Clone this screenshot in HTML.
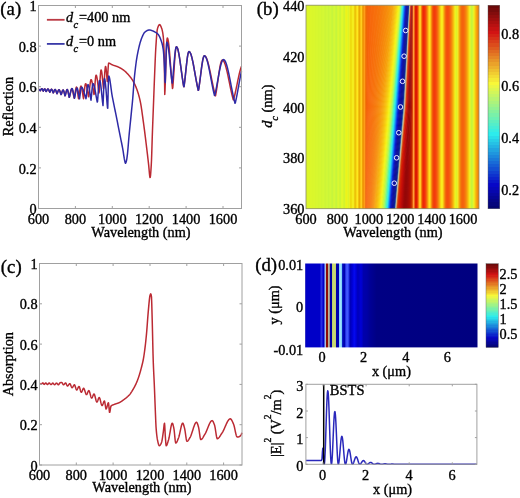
<!DOCTYPE html>
<html><head><meta charset="utf-8"><style>
html,body{margin:0;padding:0;background:#fff;}
svg{display:block;}
text{stroke:#000;stroke-width:0.35px;}
</style></head><body>
<svg width="520" height="498" viewBox="0 0 520 498">
<rect width="520" height="498" fill="#fff"/>
<g font-family="Liberation Serif, Times New Roman, serif" fill="#000" stroke-width="0">
<path d="M38.50 89.30L38.75 89.35L39.00 89.48L39.25 89.68L39.50 89.93L39.75 90.19L40.00 90.45L40.25 90.66L40.50 90.42L40.75 89.99L41.00 89.54L41.25 89.13L41.50 88.84L41.75 88.70L42.00 88.79L42.25 89.12L42.50 89.64L42.75 90.24L43.00 90.82L43.25 91.13L43.50 90.69L43.75 90.18L44.00 89.67L44.25 89.24L44.50 88.97L44.75 88.91L45.00 89.12L45.25 89.58L45.50 90.22L45.75 90.89L46.00 91.50L46.25 91.48L46.50 91.06L46.75 90.59L47.00 90.11L47.25 89.67L47.50 89.31L47.75 89.08L48.00 89.00L48.25 89.11L48.50 89.42L48.75 89.90L49.00 90.48L49.25 91.10L49.50 91.70L49.75 92.21L50.00 91.93L50.25 91.38L50.50 90.78L50.75 90.20L51.00 89.73L51.25 89.41L51.50 89.30L51.75 89.42L52.00 89.77L52.25 90.31L52.50 90.96L52.75 91.66L53.00 92.33L53.25 92.90L53.50 92.59L53.75 91.99L54.00 91.33L54.25 90.69L54.50 90.13L54.75 89.72L55.00 89.52L55.25 89.55L55.50 89.82L55.75 90.31L56.00 90.97L56.25 91.72L56.50 92.49L56.75 93.20L57.00 93.80L57.25 93.27L57.50 92.65L57.75 91.97L58.00 91.30L58.25 90.70L58.50 90.22L58.75 89.91L59.00 89.80L59.25 89.92L59.50 90.27L59.75 90.83L60.00 91.53L60.25 92.31L60.50 93.12L60.75 93.89L61.00 94.56L61.25 94.43L61.50 93.73L61.75 92.93L62.00 92.12L62.25 91.35L62.50 90.71L62.75 90.25L63.00 90.02L63.25 90.06L63.50 90.41L63.75 91.03L64.00 91.87L64.25 92.85L64.50 93.87L64.75 94.85L65.00 95.70L65.25 95.53L65.50 94.62L65.75 93.61L66.00 92.56L66.25 91.55L66.50 90.67L66.75 90.00L67.00 89.60L67.25 89.51L67.50 89.78L67.75 90.41L68.00 91.35L68.25 92.51L68.50 93.78L68.75 95.07L69.00 96.27L69.25 97.32L69.50 96.79L69.75 95.77L70.00 94.65L70.25 93.47L70.50 92.30L70.75 91.20L71.00 90.25L71.25 89.51L71.50 89.01L71.75 88.81L72.00 88.92L72.25 89.38L72.50 90.16L72.75 91.21L73.00 92.44L73.25 93.79L73.50 95.17L73.75 96.48L74.00 97.67L74.25 98.26L74.50 96.92L74.75 95.38L75.00 93.71L75.25 92.04L75.50 90.45L75.75 89.07L76.00 88.01L76.25 87.33L76.50 87.10L76.75 87.41L77.00 88.31L77.25 89.71L77.50 91.46L77.75 93.40L78.00 95.36L78.25 97.17L78.50 98.70L78.75 97.39L79.00 95.88L79.25 94.23L79.50 92.52L79.75 90.83L80.00 89.29L80.25 87.96L80.50 86.95L80.75 86.32L81.00 86.10L81.25 86.32L81.50 86.95L81.75 87.96L82.00 89.29L82.25 90.83L82.50 92.52L82.75 94.23L83.00 95.88L83.25 97.39L83.50 98.70L83.75 96.81L84.00 94.58L84.25 92.17L84.50 89.74L84.75 87.50L85.00 85.63L85.25 84.31L85.50 83.66L85.75 83.66L86.00 84.01L86.25 84.67L86.50 85.61L86.75 86.78L87.00 88.13L87.25 89.61L87.50 91.14L87.75 92.68L88.00 94.16L88.25 95.53L88.50 96.76L88.75 96.14L89.00 94.14L89.25 91.90L89.50 89.52L89.75 87.14L90.00 84.88L90.25 82.89L90.50 81.30L90.75 80.19L91.00 79.65L91.25 79.67L91.50 80.07L91.75 80.82L92.00 81.88L92.25 83.20L92.50 84.73L92.75 86.40L93.00 88.14L93.25 89.88L93.50 91.56L93.75 93.11L94.00 94.50L94.25 93.49L94.50 90.55L94.75 87.27L95.00 83.89L95.25 80.71L95.50 78.04L95.75 76.13L96.00 75.19L96.25 75.18L96.50 75.66L96.75 76.55L97.00 77.82L97.25 79.40L97.50 81.23L97.75 83.23L98.00 85.30L98.25 87.38L98.50 89.39L98.75 91.24L99.00 92.90L99.25 91.71L99.50 88.25L99.75 84.37L100.00 80.38L100.25 76.63L100.50 73.47L100.75 71.22L101.00 70.10L101.25 70.12L101.50 70.85L101.75 72.19L102.00 74.06L102.25 76.33L102.50 78.87L102.75 81.52L103.00 84.14L103.25 86.58L103.50 88.73L103.75 87.74L104.00 84.33L104.25 80.52L104.50 76.60L104.75 72.92L105.00 69.82L105.25 67.60L105.50 66.50L105.75 66.61L106.00 67.85L106.25 70.03L106.50 72.86L106.75 75.97L107.00 78.97L107.25 81.55L107.50 79.10L107.75 74.75L108.00 70.20L108.25 66.28L108.50 63.76L108.75 63.10L109.00 63.13L109.25 63.19L109.50 63.27L109.75 63.39L110.00 63.52L110.25 63.67L110.50 63.82L110.75 63.98L111.00 64.14L111.25 64.30L111.50 64.45L111.75 64.58L112.00 64.70L112.25 64.80L112.50 64.90L112.75 65.00L113.00 65.09L113.25 65.18L113.50 65.27L113.75 65.35L114.00 65.43L114.25 65.52L114.50 65.60L114.75 65.68L115.00 65.76L115.25 65.84L115.50 65.92L115.75 66.01L116.00 66.09L116.25 66.17L116.50 66.26L116.75 66.35L117.00 66.45L117.25 66.54L117.50 66.64L117.75 66.75L118.00 66.86L118.25 66.97L118.50 67.08L118.75 67.20L119.00 67.32L119.25 67.45L119.50 67.58L119.75 67.71L120.00 67.84L120.25 67.98L120.50 68.12L120.75 68.26L121.00 68.41L121.25 68.56L121.50 68.71L121.75 68.87L122.00 69.03L122.25 69.19L122.50 69.36L122.75 69.53L123.00 69.70L123.25 69.88L123.50 70.06L123.75 70.24L124.00 70.42L124.25 70.62L124.50 70.81L124.75 71.02L125.00 71.23L125.25 71.46L125.50 71.69L125.75 71.92L126.00 72.16L126.25 72.41L126.50 72.66L126.75 72.92L127.00 73.19L127.25 73.45L127.50 73.72L127.75 74.00L128.00 74.28L128.25 74.56L128.50 74.84L128.75 75.13L129.00 75.42L129.25 75.71L129.50 76.00L129.75 76.30L130.00 76.61L130.25 76.92L130.50 77.23L130.75 77.56L131.00 77.89L131.25 78.23L131.50 78.59L131.75 78.95L132.00 79.32L132.25 79.70L132.50 80.10L132.75 80.51L133.00 80.93L133.25 81.36L133.50 81.81L133.75 82.27L134.00 82.75L134.25 83.24L134.50 83.75L134.75 84.28L135.00 84.82L135.25 85.37L135.50 85.95L135.75 86.54L136.00 87.15L136.25 87.78L136.50 88.43L136.75 89.09L137.00 89.77L137.25 90.48L137.50 91.21L137.75 91.97L138.00 92.75L138.25 93.56L138.50 94.40L138.75 95.28L139.00 96.19L139.25 97.14L139.50 98.12L139.75 99.15L140.00 100.22L140.25 101.33L140.50 102.55L140.75 103.89L141.00 105.34L141.25 106.90L141.50 108.53L141.75 110.23L142.00 111.99L142.25 113.79L142.50 115.62L142.75 117.46L143.00 119.29L143.25 121.12L143.50 122.92L143.75 124.75L144.00 126.62L144.25 128.53L144.50 130.47L144.75 132.43L145.00 134.41L145.25 136.42L145.50 138.43L145.75 140.46L146.00 142.49L146.25 144.52L146.50 146.58L146.75 148.65L147.00 150.74L147.25 152.84L147.50 154.96L147.75 157.09L148.00 159.23L148.25 161.38L148.50 163.54L148.75 165.82L149.00 168.57L149.25 171.49L149.50 174.20L149.75 176.32L150.00 177.49L150.25 177.30L150.50 175.60L150.75 172.76L151.00 169.17L151.25 165.20L151.50 160.31L151.75 153.30L152.00 145.20L152.25 137.11L152.50 129.96L152.75 123.26L153.00 116.70L153.25 110.21L153.50 103.71L153.75 97.14L154.00 90.46L154.25 83.85L154.50 77.46L154.75 71.32L155.00 65.10L155.25 59.06L155.50 53.52L155.75 48.81L156.00 44.85L156.25 40.99L156.50 37.39L156.75 34.20L157.00 31.59L157.25 29.71L157.50 28.65L157.75 27.82L158.00 27.07L158.25 26.40L158.50 25.82L158.75 25.35L159.00 24.98L159.25 24.73L159.50 24.61L159.75 24.63L160.00 24.81L160.25 25.12L160.50 25.54L160.75 26.06L161.00 26.64L161.25 27.26L161.50 27.90L161.75 28.59L162.00 29.40L162.25 30.36L162.50 31.52L162.75 32.91L163.00 34.56L163.25 36.54L163.50 39.54L163.75 43.97L164.00 49.92L164.25 57.49L164.50 74.46L164.75 94.54L165.00 90.72L165.25 84.00L165.50 76.57L165.75 68.79L166.00 61.07L166.25 53.85L166.50 47.59L166.75 42.67L167.00 39.42L167.25 38.04L167.50 38.13L167.75 38.64L168.00 39.54L168.25 40.81L168.50 42.43L168.75 44.39L169.00 46.64L169.25 49.17L169.50 51.92L169.75 54.88L170.00 57.98L170.25 61.20L170.50 64.48L170.75 67.80L171.00 71.09L171.25 74.34L171.50 77.49L171.75 80.52L172.00 83.39L172.25 86.08L172.50 88.57L172.75 87.85L173.00 84.82L173.25 81.50L173.50 77.93L173.75 74.20L174.00 70.38L174.25 66.56L174.50 62.84L174.75 59.32L175.00 56.08L175.25 53.22L175.50 50.81L175.75 48.92L176.00 47.61L176.25 46.91L176.50 46.81L176.75 46.95L177.00 47.25L177.25 47.69L177.50 48.29L177.75 49.03L178.00 49.91L178.25 50.92L178.50 52.06L178.75 53.32L179.00 54.68L179.25 56.14L179.50 57.69L179.75 59.32L180.00 61.01L180.25 62.76L180.50 64.55L180.75 66.37L181.00 68.21L181.25 70.05L181.50 71.90L181.75 73.72L182.00 75.52L182.25 77.28L182.50 79.00L182.75 80.67L183.00 82.27L183.25 83.79L183.50 85.25L183.75 86.62L184.00 86.72L184.25 84.92L184.50 82.97L184.75 80.88L185.00 78.68L185.25 76.39L185.50 74.03L185.75 71.64L186.00 69.25L186.25 66.90L186.50 64.60L186.75 62.40L187.00 60.33L187.25 58.42L187.50 56.70L187.75 55.19L188.00 53.93L188.25 52.92L188.50 52.19L188.75 51.75L189.00 51.60L189.25 51.65L189.50 51.79L189.75 52.03L190.00 52.36L190.25 52.79L190.50 53.30L190.75 53.90L191.00 54.59L191.25 55.36L191.50 56.20L191.75 57.12L192.00 58.12L192.25 59.17L192.50 60.29L192.75 61.46L193.00 62.68L193.25 63.95L193.50 65.26L193.75 66.60L194.00 67.97L194.25 69.36L194.50 70.77L194.75 72.18L195.00 73.60L195.25 75.03L195.50 76.44L195.75 77.84L196.00 79.23L196.25 80.59L196.50 81.93L196.75 83.23L197.00 84.50L197.25 85.74L197.50 86.92L197.75 88.07L198.00 89.16L198.25 90.20L198.50 90.24L198.75 88.76L199.00 87.17L199.25 85.48L199.50 83.71L199.75 81.85L200.00 79.94L200.25 77.99L200.50 76.01L200.75 74.02L201.00 72.04L201.25 70.09L201.50 68.20L201.75 66.38L202.00 64.65L202.25 63.03L202.50 61.53L202.75 60.18L203.00 58.99L203.25 57.98L203.50 57.14L203.75 56.50L204.00 56.07L204.25 55.84L204.50 55.81L204.75 55.87L205.00 56.00L205.25 56.20L205.50 56.48L205.75 56.82L206.00 57.22L206.25 57.69L206.50 58.23L206.75 58.83L207.00 59.49L207.25 60.20L207.50 60.97L207.75 61.80L208.00 62.67L208.25 63.59L208.50 64.56L208.75 65.56L209.00 66.61L209.25 67.69L209.50 68.80L209.75 69.94L210.00 71.10L210.25 72.28L210.50 73.48L210.75 74.70L211.00 75.92L211.25 77.15L211.50 78.38L211.75 79.61L212.00 80.84L212.25 82.06L212.50 83.27L212.75 84.46L213.00 85.64L213.25 86.80L213.50 87.93L213.75 89.04L214.00 90.12L214.25 91.17L214.50 92.19L214.75 93.17L215.00 94.12L215.25 95.03L215.50 95.90L215.75 94.61L216.00 93.23L216.25 91.77L216.50 90.23L216.75 88.62L217.00 86.95L217.25 85.24L217.50 83.48L217.75 81.70L218.00 79.91L218.25 78.11L218.50 76.33L218.75 74.58L219.00 72.87L219.25 71.22L219.50 69.64L219.75 68.14L220.00 66.74L220.25 65.44L220.50 64.27L220.75 63.22L221.00 62.31L221.25 61.55L221.50 60.95L221.75 60.50L222.00 60.22L222.25 60.10L222.50 60.12L222.75 60.21L223.00 60.37L223.25 60.61L223.50 60.90L223.75 61.27L224.00 61.70L224.25 62.20L224.50 62.76L224.75 63.38L225.00 64.06L225.25 64.80L225.50 65.60L225.75 66.44L226.00 67.33L226.25 68.27L226.50 69.26L226.75 70.28L227.00 71.34L227.25 72.43L227.50 73.55L227.75 74.70L228.00 75.87L228.25 77.06L228.50 78.27L228.75 79.49L229.00 80.71L229.25 81.94L229.50 83.18L229.75 84.41L230.00 85.63L230.25 86.84L230.50 88.05L230.75 89.24L231.00 90.40L231.25 91.55L231.50 92.68L231.75 93.77L232.00 94.84L232.25 95.88L232.50 96.89L232.75 97.85L233.00 98.79L233.25 99.68L233.50 99.86L233.75 98.98L234.00 98.05L234.25 97.09L234.50 96.08L234.75 95.04L235.00 93.97L235.25 92.87L235.50 91.74L235.75 90.59L236.00 89.41L236.25 88.22L236.50 87.02L236.75 85.80L237.00 84.58L237.25 83.36L237.50 82.14L237.75 80.93L238.00 79.72L238.25 78.54L238.50 77.37L238.75 76.23L239.00 75.11L239.25 74.03L239.50 72.99L239.75 71.98L240.00 71.02L240.25 70.11L240.50 69.25L240.75 68.45L241.00 67.70L241.25 67.02L241.50 66.40" fill="none" stroke="#bb2a33" stroke-width="1.5" stroke-linejoin="round"/>
<path d="M38.50 89.30L38.75 89.35L39.00 89.48L39.25 89.68L39.50 89.93L39.75 90.19L40.00 90.45L40.25 90.66L40.50 90.42L40.75 89.99L41.00 89.54L41.25 89.13L41.50 88.84L41.75 88.70L42.00 88.79L42.25 89.12L42.50 89.64L42.75 90.24L43.00 90.82L43.25 91.13L43.50 90.69L43.75 90.18L44.00 89.67L44.25 89.24L44.50 88.97L44.75 88.91L45.00 89.12L45.25 89.58L45.50 90.22L45.75 90.89L46.00 91.50L46.25 91.48L46.50 91.06L46.75 90.59L47.00 90.11L47.25 89.67L47.50 89.31L47.75 89.08L48.00 89.00L48.25 89.11L48.50 89.42L48.75 89.90L49.00 90.48L49.25 91.10L49.50 91.70L49.75 92.21L50.00 91.93L50.25 91.38L50.50 90.78L50.75 90.20L51.00 89.73L51.25 89.41L51.50 89.30L51.75 89.42L52.00 89.77L52.25 90.31L52.50 90.96L52.75 91.66L53.00 92.33L53.25 92.90L53.50 92.59L53.75 91.99L54.00 91.33L54.25 90.69L54.50 90.13L54.75 89.72L55.00 89.52L55.25 89.55L55.50 89.82L55.75 90.31L56.00 90.97L56.25 91.72L56.50 92.49L56.75 93.20L57.00 93.80L57.25 93.27L57.50 92.65L57.75 91.97L58.00 91.30L58.25 90.70L58.50 90.22L58.75 89.91L59.00 89.80L59.25 89.92L59.50 90.27L59.75 90.83L60.00 91.53L60.25 92.31L60.50 93.12L60.75 93.89L61.00 94.56L61.25 94.43L61.50 93.73L61.75 92.93L62.00 92.12L62.25 91.35L62.50 90.71L62.75 90.25L63.00 90.02L63.25 90.06L63.50 90.41L63.75 91.03L64.00 91.87L64.25 92.85L64.50 93.87L64.75 94.85L65.00 95.70L65.25 95.53L65.50 94.62L65.75 93.61L66.00 92.56L66.25 91.55L66.50 90.67L66.75 90.00L67.00 89.60L67.25 89.51L67.50 89.78L67.75 90.41L68.00 91.35L68.25 92.51L68.50 93.78L68.75 95.07L69.00 96.27L69.25 97.32L69.50 96.82L69.75 95.86L70.00 94.80L70.25 93.67L70.50 92.54L70.75 91.46L71.00 90.48L71.25 89.65L71.50 89.02L71.75 88.63L72.00 88.50L72.25 88.67L72.50 89.16L72.75 89.95L73.00 90.98L73.25 92.18L73.50 93.49L73.75 94.82L74.00 96.11L74.25 97.28L74.50 98.30L74.75 97.23L75.00 96.00L75.25 94.65L75.50 93.24L75.75 91.87L76.00 90.60L76.25 89.52L76.50 88.70L76.75 88.18L77.00 88.00L77.25 88.19L77.50 88.73L77.75 89.60L78.00 90.73L78.25 92.06L78.50 93.50L78.75 94.97L79.00 96.39L79.25 97.68L79.50 98.80L79.75 97.27L80.00 95.46L80.25 93.50L80.50 91.56L80.75 89.81L81.00 88.41L81.25 87.51L81.50 87.20L81.75 87.26L82.00 87.44L82.25 87.74L82.50 88.15L82.75 88.67L83.00 89.27L83.25 89.96L83.50 90.71L83.75 91.52L84.00 92.36L84.25 93.23L84.50 94.10L84.75 94.96L85.00 95.80L85.25 96.61L85.50 97.36L85.75 98.06L86.00 98.70L86.25 96.83L86.50 94.64L86.75 92.26L87.00 89.90L87.25 87.77L87.50 86.07L87.75 84.98L88.00 84.60L88.25 84.79L88.50 85.34L88.75 86.23L89.00 87.41L89.25 88.85L89.50 90.46L89.75 92.19L90.00 93.96L90.25 95.70L90.50 97.36L90.75 98.87L91.00 100.20L91.25 98.00L91.50 95.42L91.75 92.62L92.00 89.84L92.25 87.33L92.50 85.33L92.75 84.04L93.00 83.60L93.25 83.71L93.50 84.02L93.75 84.54L94.00 85.25L94.25 86.13L94.50 87.17L94.75 88.35L95.00 89.64L95.25 91.02L95.50 92.45L95.75 93.92L96.00 95.39L96.25 96.84L96.50 98.24L96.75 99.58L97.00 100.82L97.25 101.97L97.50 101.60L97.75 98.75L98.00 95.50L98.25 92.07L98.50 88.68L98.75 85.59L99.00 83.05L99.25 81.26L99.50 80.38L99.75 80.38L100.00 80.90L100.25 81.86L100.50 83.24L100.75 84.99L101.00 87.04L101.25 89.33L101.50 91.77L101.75 94.30L102.00 96.82L102.25 99.28L102.50 101.59L102.75 103.72L103.00 105.60L103.25 100.27L103.50 93.88L103.75 87.45L104.00 82.15L104.25 79.03L104.50 78.55L104.75 79.10L105.00 80.25L105.25 81.96L105.50 84.15L105.75 86.74L106.00 89.65L106.25 92.77L106.50 95.99L106.75 99.20L107.00 102.32L107.25 105.24L107.50 107.90L107.75 108.13L108.00 97.81L108.25 86.56L108.50 78.28L108.75 76.01L109.00 76.29L109.25 76.94L109.50 77.91L109.75 79.14L110.00 80.61L110.25 82.25L110.50 84.03L110.75 85.89L111.00 87.80L111.25 89.69L111.50 91.53L111.75 93.27L112.00 94.86L112.25 96.27L112.50 97.58L112.75 98.88L113.00 100.16L113.25 101.42L113.50 102.67L113.75 103.91L114.00 105.14L114.25 106.36L114.50 107.58L114.75 108.80L115.00 110.01L115.25 111.23L115.50 112.44L115.75 113.67L116.00 114.90L116.25 116.15L116.50 117.40L116.75 118.67L117.00 119.93L117.25 121.20L117.50 122.47L117.75 123.75L118.00 125.02L118.25 126.30L118.50 127.58L118.75 128.85L119.00 130.13L119.25 131.40L119.50 132.67L119.75 133.94L120.00 135.20L120.25 136.45L120.50 137.67L120.75 138.89L121.00 140.09L121.25 141.30L121.50 142.51L121.75 143.74L122.00 144.99L122.25 146.26L122.50 147.57L122.75 148.92L123.00 150.37L123.25 151.96L123.50 153.63L123.75 155.32L124.00 156.95L124.25 158.45L124.50 159.75L124.75 160.87L125.00 162.02L125.25 162.93L125.50 163.30L125.75 163.05L126.00 162.40L126.25 161.50L126.50 160.50L126.75 159.25L127.00 157.60L127.25 155.70L127.50 153.56L127.75 151.04L128.00 148.23L128.25 145.24L128.50 142.18L128.75 139.15L129.00 136.28L129.25 133.62L129.50 131.04L129.75 128.50L130.00 126.00L130.25 123.52L130.50 121.05L130.75 118.58L131.00 116.10L131.25 113.60L131.50 111.13L131.75 108.70L132.00 106.24L132.25 103.73L132.50 101.09L132.75 98.27L133.00 95.16L133.25 91.85L133.50 88.46L133.75 85.10L134.00 81.88L134.25 78.91L134.50 76.30L134.75 73.95L135.00 71.69L135.25 69.51L135.50 67.42L135.75 65.41L136.00 63.51L136.25 61.69L136.50 59.98L136.75 58.37L137.00 56.86L137.25 55.47L137.50 54.16L137.75 52.88L138.00 51.65L138.25 50.45L138.50 49.29L138.75 48.17L139.00 47.09L139.25 46.05L139.50 45.05L139.75 44.09L140.00 43.17L140.25 42.29L140.50 41.46L140.75 40.67L141.00 39.92L141.25 39.21L141.50 38.55L141.75 37.93L142.00 37.32L142.25 36.72L142.50 36.13L142.75 35.57L143.00 35.03L143.25 34.52L143.50 34.03L143.75 33.59L144.00 33.18L144.25 32.81L144.50 32.49L144.75 32.22L145.00 32.00L145.25 31.81L145.50 31.63L145.75 31.45L146.00 31.28L146.25 31.11L146.50 30.96L146.75 30.81L147.00 30.67L147.25 30.54L147.50 30.42L147.75 30.32L148.00 30.23L148.25 30.15L148.50 30.09L148.75 30.04L149.00 30.01L149.25 30.00L149.50 30.00L149.75 30.02L150.00 30.05L150.25 30.09L150.50 30.13L150.75 30.19L151.00 30.26L151.25 30.34L151.50 30.42L151.75 30.51L152.00 30.61L152.25 30.71L152.50 30.82L152.75 30.93L153.00 31.05L153.25 31.17L153.50 31.29L153.75 31.42L154.00 31.54L154.25 31.67L154.50 31.80L154.75 31.92L155.00 32.05L155.25 32.18L155.50 32.32L155.75 32.47L156.00 32.62L156.25 32.78L156.50 32.96L156.75 33.15L157.00 33.35L157.25 33.56L157.50 33.78L157.75 34.03L158.00 34.28L158.25 34.56L158.50 34.87L158.75 35.23L159.00 35.64L159.25 36.09L159.50 36.58L159.75 37.11L160.00 37.67L160.25 38.26L160.50 38.88L160.75 39.53L161.00 40.20L161.25 40.89L161.50 41.62L161.75 42.42L162.00 43.31L162.25 44.29L162.50 45.40L162.75 46.65L163.00 48.05L163.25 49.65L163.50 51.95L163.75 55.06L164.00 58.80L164.25 62.97L164.50 67.40L164.75 74.07L165.00 81.36L165.25 82.63L165.50 75.23L165.75 66.63L166.00 57.87L166.25 50.17L166.50 44.68L166.75 42.27L167.00 42.30L167.25 42.69L167.50 43.39L167.75 44.37L168.00 45.63L168.25 47.14L168.50 48.89L168.75 50.85L169.00 52.99L169.25 55.29L169.50 57.72L169.75 60.23L170.00 62.81L170.25 65.42L170.50 68.02L170.75 70.59L171.00 73.09L171.25 75.51L171.50 77.81L171.75 79.98L172.00 82.00L172.25 83.08L172.50 80.85L172.75 78.39L173.00 75.73L173.25 72.92L173.50 70.01L173.75 67.03L174.00 64.06L174.25 61.16L174.50 58.38L174.75 55.78L175.00 53.42L175.25 51.36L175.50 49.64L175.75 48.30L176.00 47.37L176.25 46.88L176.50 46.81L176.75 46.95L177.00 47.25L177.25 47.69L177.50 48.29L177.75 49.03L178.00 49.91L178.25 50.92L178.50 52.06L178.75 53.32L179.00 54.68L179.25 56.14L179.50 57.69L179.75 59.32L180.00 61.01L180.25 62.76L180.50 64.55L180.75 66.37L181.00 68.21L181.25 70.05L181.50 71.90L181.75 73.72L182.00 75.52L182.25 77.28L182.50 79.00L182.75 80.67L183.00 82.27L183.25 83.79L183.50 85.25L183.75 86.62L184.00 86.72L184.25 84.92L184.50 82.97L184.75 80.88L185.00 78.68L185.25 76.39L185.50 74.03L185.75 71.64L186.00 69.25L186.25 66.90L186.50 64.60L186.75 62.40L187.00 60.33L187.25 58.42L187.50 56.70L187.75 55.19L188.00 53.93L188.25 52.92L188.50 52.19L188.75 51.75L189.00 51.60L189.25 51.65L189.50 51.79L189.75 52.03L190.00 52.36L190.25 52.79L190.50 53.30L190.75 53.90L191.00 54.59L191.25 55.36L191.50 56.20L191.75 57.12L192.00 58.12L192.25 59.17L192.50 60.29L192.75 61.46L193.00 62.68L193.25 63.95L193.50 65.26L193.75 66.60L194.00 67.97L194.25 69.36L194.50 70.77L194.75 72.18L195.00 73.60L195.25 75.03L195.50 76.44L195.75 77.84L196.00 79.23L196.25 80.59L196.50 81.93L196.75 83.23L197.00 84.50L197.25 85.74L197.50 86.92L197.75 88.07L198.00 89.16L198.25 90.20L198.50 90.24L198.75 88.76L199.00 87.17L199.25 85.48L199.50 83.71L199.75 81.85L200.00 79.94L200.25 77.99L200.50 76.01L200.75 74.02L201.00 72.04L201.25 70.09L201.50 68.20L201.75 66.38L202.00 64.65L202.25 63.03L202.50 61.53L202.75 60.18L203.00 58.99L203.25 57.98L203.50 57.14L203.75 56.50L204.00 56.07L204.25 55.84L204.50 55.81L204.75 55.88L205.00 56.04L205.25 56.28L205.50 56.60L205.75 57.00L206.00 57.48L206.25 58.04L206.50 58.67L206.75 59.37L207.00 60.14L207.25 60.98L207.50 61.88L207.75 62.83L208.00 63.85L208.25 64.91L208.50 66.03L208.75 67.18L209.00 68.38L209.25 69.61L209.50 70.87L209.75 72.15L210.00 73.46L210.25 74.78L210.50 76.11L210.75 77.45L211.00 78.79L211.25 80.13L211.50 81.46L211.75 82.78L212.00 84.08L212.25 85.37L212.50 86.63L212.75 87.87L213.00 89.08L213.25 90.25L213.50 91.39L213.75 92.49L214.00 93.54L214.25 94.56L214.50 95.53L214.75 95.31L215.00 94.29L215.25 93.22L215.50 92.09L215.75 90.92L216.00 89.70L216.25 88.45L216.50 87.16L216.75 85.84L217.00 84.49L217.25 83.13L217.50 81.75L217.75 80.36L218.00 78.97L218.25 77.58L218.50 76.20L218.75 74.84L219.00 73.50L219.25 72.19L219.50 70.92L219.75 69.68L220.00 68.50L220.25 67.36L220.50 66.29L220.75 65.28L221.00 64.33L221.25 63.47L221.50 62.68L221.75 61.97L222.00 61.35L222.25 60.82L222.50 60.39L222.75 60.04L223.00 59.80L223.25 59.65L223.50 59.60L223.75 59.64L224.00 59.74L224.25 59.92L224.50 60.16L224.75 60.48L225.00 60.86L225.25 61.31L225.50 61.82L225.75 62.40L226.00 63.04L226.25 63.74L226.50 64.50L226.75 65.31L227.00 66.18L227.25 67.09L227.50 68.06L227.75 69.07L228.00 70.12L228.25 71.21L228.50 72.33L228.75 73.49L229.00 74.68L229.25 75.89L229.50 77.12L229.75 78.37L230.00 79.64L230.25 80.92L230.50 82.21L230.75 83.50L231.00 84.79L231.25 86.09L231.50 87.37L231.75 88.65L232.00 89.92L232.25 91.17L232.50 92.40L232.75 93.62L233.00 94.81L233.25 95.97L233.50 97.11L233.75 98.22L234.00 99.29L234.25 100.34L234.50 101.34L234.75 102.31L235.00 103.24L235.25 103.01L235.50 101.98L235.75 100.91L236.00 99.78L236.25 98.61L236.50 97.40L236.75 96.15L237.00 94.86L237.25 93.55L237.50 92.21L237.75 90.84L238.00 89.46L238.25 88.07L238.50 86.67L238.75 85.27L239.00 83.87L239.25 82.49L239.50 81.12L239.75 79.77L240.00 78.45L240.25 77.16L240.50 75.91L240.75 74.71L241.00 73.56L241.25 72.46L241.50 71.42" fill="none" stroke="#2e2aa6" stroke-width="1.5" stroke-linejoin="round"/>
<rect x="38.5" y="5.5" width="203.0" height="203.0" fill="none" stroke="#a0a0a0" stroke-width="1"/>
<path d="M38.5 208.5v-2.5M38.5 5.5v2.5M75.4 208.5v-2.5M75.4 5.5v2.5M112.3 208.5v-2.5M112.3 5.5v2.5M149.2 208.5v-2.5M149.2 5.5v2.5M186.1 208.5v-2.5M186.1 5.5v2.5M223.0 208.5v-2.5M223.0 5.5v2.5M38.5 208.5h2.5M241.5 208.5h-2.5M38.5 167.9h2.5M241.5 167.9h-2.5M38.5 127.3h2.5M241.5 127.3h-2.5M38.5 86.7h2.5M241.5 86.7h-2.5M38.5 46.1h2.5M241.5 46.1h-2.5M38.5 5.5h2.5M241.5 5.5h-2.5" stroke="#a0a0a0" stroke-width="1" fill="none"/>
<text x="38.5" y="223.5" font-size="14.3" text-anchor="middle" >600</text>
<text x="75.4" y="223.5" font-size="14.3" text-anchor="middle" >800</text>
<text x="112.3" y="223.5" font-size="14.3" text-anchor="middle" >1000</text>
<text x="149.2" y="223.5" font-size="14.3" text-anchor="middle" >1200</text>
<text x="186.1" y="223.5" font-size="14.3" text-anchor="middle" >1400</text>
<text x="223.0" y="223.5" font-size="14.3" text-anchor="middle" >1600</text>
<text x="36.6" y="214.2" font-size="14.3" text-anchor="end" >0</text>
<text x="36.6" y="173.6" font-size="14.3" text-anchor="end" >0.2</text>
<text x="36.6" y="133.0" font-size="14.3" text-anchor="end" >0.4</text>
<text x="36.6" y="92.4" font-size="14.3" text-anchor="end" >0.6</text>
<text x="36.6" y="51.8" font-size="14.3" text-anchor="end" >0.8</text>
<text x="36.6" y="11.2" font-size="14.3" text-anchor="end" >1</text>
<text x="141" y="237.3" font-size="14.3" text-anchor="middle" >Wavelength (nm)</text>
<text transform="translate(12.9,106.5) rotate(-90)" font-size="14.3" text-anchor="middle">Reflection</text>
<text x="0.3" y="15.2" font-size="18.8" text-anchor="start" >(a)</text>
<path d="M46.9 19.8H64.6" stroke="#bb3a44" stroke-width="1.8"/>
<path d="M46.9 43.9H64.6" stroke="#3a3aa8" stroke-width="1.8"/>
<text x="66" y="22.1" font-size="14.3" font-style="italic">d</text>
<text x="73.6" y="28.2" font-size="10.5" font-style="italic">c</text>
<text x="66" y="46.3" font-size="14.3" font-style="italic">d</text>
<text x="73.6" y="52.4" font-size="10.5" font-style="italic">c</text>
<text x="79" y="22.1" font-size="14.3">=400 nm</text>
<text x="79" y="46.3" font-size="14.3">=0 nm</text>
<path d="M39.50 383.30L39.75 383.57L40.00 383.79L40.25 383.96L40.50 384.07L40.75 384.15L41.00 384.19L41.25 384.20L41.50 384.08L41.75 383.84L42.00 383.55L42.25 383.26L42.50 383.02L42.75 382.90L43.00 382.98L43.25 383.27L43.50 383.65L43.75 384.03L44.00 384.32L44.25 384.40L44.50 384.27L44.75 384.02L45.00 383.70L45.25 383.38L45.50 383.13L45.75 383.00L46.00 383.06L46.25 383.29L46.50 383.61L46.75 383.96L47.00 384.27L47.25 384.46L47.50 384.49L47.75 384.35L48.00 384.11L48.25 383.81L48.50 383.50L48.75 383.23L49.00 383.05L49.25 383.00L49.50 383.12L49.75 383.36L50.00 383.67L50.25 384.00L50.50 384.30L50.75 384.52L51.00 384.60L51.25 384.52L51.50 384.32L51.75 384.04L52.00 383.73L52.25 383.43L52.50 383.21L52.75 383.10L53.00 383.15L53.25 383.35L53.50 383.64L53.75 383.97L54.00 384.29L54.25 384.54L54.50 384.69L54.75 384.67L55.00 384.52L55.25 384.27L55.50 383.96L55.75 383.65L56.00 383.37L56.25 383.18L56.50 383.10L56.75 383.18L57.00 383.39L57.25 383.69L57.50 384.02L57.75 384.34L58.00 384.61L58.25 384.77L58.50 384.78L58.75 384.57L59.00 384.21L59.25 383.77L59.50 383.34L59.75 382.99L60.00 382.80L60.25 382.73L60.50 382.66L60.75 382.60L61.00 382.56L61.25 382.52L61.50 382.51L61.75 382.51L62.00 382.67L62.25 383.01L62.50 383.46L62.75 383.93L63.00 384.37L63.25 384.68L63.50 384.80L63.75 384.73L64.00 384.54L64.25 384.28L64.50 383.96L64.75 383.65L65.00 383.36L65.25 383.13L65.50 383.01L65.75 383.05L66.00 383.34L66.25 383.81L66.50 384.38L66.75 384.97L67.00 385.49L67.25 385.86L67.50 386.00L67.75 385.92L68.00 385.72L68.25 385.43L68.50 385.07L68.75 384.70L69.00 384.34L69.25 384.03L69.50 383.81L69.75 383.70L70.00 383.79L70.25 384.10L70.50 384.59L70.75 385.18L71.00 385.83L71.25 386.46L71.50 387.03L71.75 387.45L72.00 387.68L72.25 387.66L72.50 387.47L72.75 387.14L73.00 386.72L73.25 386.25L73.50 385.78L73.75 385.36L74.00 385.03L74.25 384.84L74.50 384.83L74.75 385.12L75.00 385.68L75.25 386.41L75.50 387.23L75.75 388.07L76.00 388.85L76.25 389.48L76.50 389.89L76.75 390.00L77.00 389.84L77.25 389.50L77.50 389.02L77.75 388.48L78.00 387.91L78.25 387.37L78.50 386.92L78.75 386.62L79.00 386.50L79.25 386.69L79.50 387.20L79.75 387.95L80.00 388.84L80.25 389.78L80.50 390.68L80.75 391.46L81.00 392.03L81.25 392.29L81.50 392.21L81.75 391.90L82.00 391.41L82.25 390.82L82.50 390.17L82.75 389.54L83.00 388.97L83.25 388.55L83.50 388.32L83.75 388.35L84.00 388.63L84.25 389.11L84.50 389.74L84.75 390.49L85.00 391.29L85.25 392.10L85.50 392.87L85.75 393.55L86.00 394.10L86.25 394.47L86.50 394.60L86.75 394.47L87.00 394.12L87.25 393.60L87.50 392.99L87.75 392.34L88.00 391.72L88.25 391.18L88.50 390.79L88.75 390.61L89.00 390.70L89.25 391.09L89.50 391.70L89.75 392.49L90.00 393.39L90.25 394.35L90.50 395.31L90.75 396.21L91.00 397.00L91.25 397.61L91.50 398.00L91.75 398.09L92.00 397.91L92.25 397.51L92.50 396.96L92.75 396.32L93.00 395.65L93.25 395.02L93.50 394.50L93.75 394.13L94.00 394.00L94.25 394.17L94.50 394.64L94.75 395.35L95.00 396.23L95.25 397.22L95.50 398.26L95.75 399.29L96.00 400.24L96.25 401.06L96.50 401.68L96.75 402.04L97.00 402.07L97.25 401.81L97.50 401.32L97.75 400.68L98.00 399.95L98.25 399.21L98.50 398.52L98.75 397.96L99.00 397.60L99.25 397.51L99.50 397.74L99.75 398.26L100.00 399.01L100.25 399.92L100.50 400.92L100.75 401.97L101.00 402.99L101.25 403.92L101.50 404.70L101.75 405.27L102.00 405.57L102.25 405.54L102.50 405.23L102.75 404.71L103.00 404.04L103.25 403.30L103.50 402.56L103.75 401.89L104.00 401.37L104.25 401.06L104.50 401.08L104.75 401.88L105.00 403.29L105.25 405.00L105.50 406.71L105.75 408.12L106.00 408.92L106.25 408.92L106.50 408.49L106.75 407.77L107.00 406.86L107.25 405.85L107.50 404.84L107.75 403.93L108.00 403.21L108.25 402.78L108.50 402.89L108.75 404.71L109.00 407.60L109.25 410.49L109.50 412.31L109.75 412.31L110.00 411.32L110.25 409.81L110.50 408.18L110.75 406.82L111.00 406.10L111.25 405.85L111.50 405.65L111.75 405.47L112.00 405.31L112.25 405.18L112.50 405.07L112.75 404.97L113.00 404.88L113.25 404.79L113.50 404.70L113.75 404.60L114.00 404.50L114.25 404.39L114.50 404.29L114.75 404.19L115.00 404.10L115.25 404.01L115.50 403.93L115.75 403.84L116.00 403.76L116.25 403.68L116.50 403.60L116.75 403.52L117.00 403.44L117.25 403.36L117.50 403.28L117.75 403.20L118.00 403.11L118.25 403.02L118.50 402.93L118.75 402.83L119.00 402.72L119.25 402.62L119.50 402.50L119.75 402.38L120.00 402.25L120.25 402.11L120.50 401.96L120.75 401.81L121.00 401.65L121.25 401.49L121.50 401.32L121.75 401.15L122.00 400.97L122.25 400.80L122.50 400.61L122.75 400.43L123.00 400.25L123.25 400.06L123.50 399.87L123.75 399.69L124.00 399.50L124.25 399.31L124.50 399.13L124.75 398.94L125.00 398.76L125.25 398.57L125.50 398.38L125.75 398.19L126.00 398.00L126.25 397.81L126.50 397.61L126.75 397.40L127.00 397.20L127.25 396.98L127.50 396.76L127.75 396.54L128.00 396.31L128.25 396.07L128.50 395.82L128.75 395.57L129.00 395.31L129.25 395.03L129.50 394.74L129.75 394.44L130.00 394.12L130.25 393.78L130.50 393.44L130.75 393.08L131.00 392.71L131.25 392.33L131.50 391.94L131.75 391.55L132.00 391.14L132.25 390.74L132.50 390.33L132.75 389.91L133.00 389.50L133.25 389.08L133.50 388.66L133.75 388.22L134.00 387.78L134.25 387.33L134.50 386.87L134.75 386.40L135.00 385.92L135.25 385.42L135.50 384.91L135.75 384.39L136.00 383.86L136.25 383.31L136.50 382.75L136.75 382.16L137.00 381.55L137.25 380.92L137.50 380.27L137.75 379.60L138.00 378.91L138.25 378.21L138.50 377.49L138.75 376.75L139.00 376.00L139.25 375.22L139.50 374.42L139.75 373.58L140.00 372.72L140.25 371.84L140.50 370.93L140.75 370.01L141.00 369.08L141.25 368.14L141.50 367.20L141.75 366.26L142.00 365.30L142.25 364.30L142.50 363.26L142.75 362.17L143.00 361.00L143.25 359.74L143.50 358.36L143.75 356.86L144.00 355.25L144.25 353.54L144.50 351.74L144.75 349.88L145.00 347.94L145.25 345.88L145.50 343.72L145.75 341.43L146.00 339.04L146.25 336.55L146.50 333.93L146.75 331.01L147.00 327.85L147.25 324.53L147.50 321.15L147.75 317.81L148.00 314.61L148.25 311.63L148.50 308.94L148.75 306.19L149.00 303.44L149.25 300.84L149.50 298.54L149.75 296.71L150.00 295.50L150.25 294.68L150.50 294.08L150.75 293.91L151.00 294.33L151.25 295.26L151.50 297.07L151.75 303.42L152.00 312.61L152.25 321.76L152.50 331.82L152.75 342.83L153.00 353.21L153.25 361.42L153.50 367.77L153.75 373.23L154.00 378.31L154.25 383.56L154.50 389.45L154.75 395.88L155.00 402.45L155.25 408.79L155.50 415.02L155.75 421.30L156.00 426.50L156.25 429.86L156.50 432.64L156.75 435.01L157.00 437.01L157.25 438.67L157.50 440.00L157.75 441.17L158.00 442.30L158.25 443.35L158.50 444.25L158.75 444.98L159.00 445.47L159.25 445.69L159.50 445.66L159.75 445.53L160.00 445.30L160.25 444.98L160.50 444.59L160.75 444.14L161.00 443.63L161.25 443.08L161.50 442.50L161.75 441.70L162.00 440.56L162.25 439.14L162.50 437.53L162.75 435.80L163.00 434.04L163.25 432.33L163.50 430.44L163.75 428.06L164.00 425.71L164.25 423.92L164.50 423.20L164.75 425.47L165.00 430.43L165.25 435.29L165.50 438.79L165.75 442.30L166.00 444.92L166.25 445.70L166.50 445.54L166.75 445.19L167.00 444.67L167.25 444.03L167.50 443.29L167.75 442.48L168.00 441.64L168.25 440.80L168.50 440.00L168.75 439.11L169.00 438.03L169.25 436.80L169.50 435.44L169.75 433.99L170.00 432.51L170.25 431.01L170.50 429.54L170.75 428.14L171.00 426.84L171.25 425.69L171.50 424.71L171.75 423.94L172.00 423.43L172.25 423.21L172.50 423.33L172.75 423.82L173.00 424.59L173.25 425.57L173.50 426.66L173.75 427.78L174.00 429.13L174.25 431.13L174.50 433.53L174.75 436.09L175.00 438.57L175.25 440.70L175.50 442.26L175.75 442.98L176.00 442.95L176.25 442.78L176.50 442.49L176.75 442.09L177.00 441.62L177.25 441.08L177.50 440.49L177.75 439.87L178.00 439.24L178.25 438.61L178.50 438.00L178.75 437.32L179.00 436.50L179.25 435.55L179.50 434.50L179.75 433.38L180.00 432.21L180.25 431.02L180.50 429.83L180.75 428.66L181.00 427.54L181.25 426.50L181.50 425.55L181.75 424.73L182.00 424.07L182.25 423.57L182.50 423.28L182.75 423.21L183.00 423.41L183.25 423.86L183.50 424.51L183.75 425.30L184.00 426.18L184.25 427.10L184.50 428.00L184.75 429.08L185.00 430.50L185.25 432.16L185.50 433.94L185.75 435.74L186.00 437.46L186.25 438.98L186.50 440.20L186.75 441.01L187.00 441.30L187.25 441.26L187.50 441.13L187.75 440.93L188.00 440.67L188.25 440.35L188.50 439.99L188.75 439.60L189.00 439.19L189.25 438.76L189.50 438.33L189.75 437.91L190.00 437.50L190.25 437.07L190.50 436.57L190.75 436.01L191.00 435.40L191.25 434.74L191.50 434.04L191.75 433.31L192.00 432.55L192.25 431.77L192.50 430.98L192.75 430.19L193.00 429.40L193.25 428.61L193.50 427.84L193.75 427.10L194.00 426.38L194.25 425.70L194.50 425.06L194.75 424.47L195.00 423.93L195.25 423.46L195.50 423.06L195.75 422.74L196.00 422.50L196.25 422.35L196.50 422.30L196.75 422.41L197.00 422.73L197.25 423.21L197.50 423.84L197.75 424.56L198.00 425.35L198.25 426.17L198.50 427.00L198.75 428.06L199.00 429.53L199.25 431.26L199.50 433.12L199.75 434.97L200.00 436.68L200.25 438.11L200.50 439.12L200.75 439.59L201.00 439.58L201.25 439.49L201.50 439.33L201.75 439.13L202.00 438.87L202.25 438.56L202.50 438.22L202.75 437.85L203.00 437.45L203.25 437.02L203.50 436.59L203.75 436.14L204.00 435.70L204.25 435.25L204.50 434.82L204.75 434.40L205.00 434.00L205.25 433.59L205.50 433.14L205.75 432.66L206.00 432.14L206.25 431.59L206.50 431.02L206.75 430.43L207.00 429.82L207.25 429.20L207.50 428.57L207.75 427.94L208.00 427.30L208.25 426.68L208.50 426.06L208.75 425.45L209.00 424.86L209.25 424.29L209.50 423.75L209.75 423.23L210.00 422.75L210.25 422.31L210.50 421.90L210.75 421.55L211.00 421.24L211.25 420.99L211.50 420.80L211.75 420.67L212.00 420.61L212.25 420.63L212.50 420.78L212.75 421.05L213.00 421.44L213.25 421.91L213.50 422.45L213.75 423.04L214.00 423.68L214.25 424.34L214.50 425.00L214.75 425.85L215.00 427.04L215.25 428.48L215.50 430.08L215.75 431.76L216.00 433.44L216.25 435.01L216.50 436.41L216.75 437.55L217.00 438.34L217.25 438.69L217.50 438.68L217.75 438.61L218.00 438.48L218.25 438.31L218.50 438.09L218.75 437.84L219.00 437.55L219.25 437.23L219.50 436.89L219.75 436.52L220.00 436.14L220.25 435.75L220.50 435.34L220.75 434.94L221.00 434.53L221.25 434.13L221.50 433.74L221.75 433.36L222.00 433.00L222.25 432.63L222.50 432.23L222.75 431.81L223.00 431.35L223.25 430.87L223.50 430.37L223.75 429.85L224.00 429.31L224.25 428.76L224.50 428.21L224.75 427.64L225.00 427.07L225.25 426.49L225.50 425.92L225.75 425.35L226.00 424.78L226.25 424.23L226.50 423.69L226.75 423.16L227.00 422.64L227.25 422.15L227.50 421.68L227.75 421.24L228.00 420.82L228.25 420.44L228.50 420.09L228.75 419.77L229.00 419.50L229.25 419.26L229.50 419.07L229.75 418.93L230.00 418.84L230.25 418.80L230.50 418.83L230.75 418.96L231.00 419.17L231.25 419.47L231.50 419.83L231.75 420.24L232.00 420.71L232.25 421.22L232.50 421.75L232.75 422.31L233.00 422.87L233.25 423.44L233.50 424.00L233.75 424.65L234.00 425.47L234.25 426.44L234.50 427.51L234.75 428.66L235.00 429.85L235.25 431.04L235.50 432.22L235.75 433.34L236.00 434.36L236.25 435.27L236.50 436.02L236.75 436.58L237.00 436.91L237.25 437.00L237.50 437.00L237.75 436.99L238.00 436.98L238.25 436.95L238.50 436.91L238.75 436.86L239.00 436.77L239.25 436.67L239.50 436.53L239.75 436.36L240.00 436.15L240.25 435.90L240.50 435.60L240.75 435.26L241.00 434.87L241.25 434.42L241.50 433.91L241.75 433.34L242.00 432.70" fill="none" stroke="#bb2a33" stroke-width="1.5" stroke-linejoin="round"/>
<rect x="39.5" y="263.5" width="202.5" height="201.5" fill="none" stroke="#a0a0a0" stroke-width="1"/>
<path d="M39.5 465.0v-2.5M39.5 263.5v2.5M76.3 465.0v-2.5M76.3 263.5v2.5M113.1 465.0v-2.5M113.1 263.5v2.5M150.0 465.0v-2.5M150.0 263.5v2.5M186.8 465.0v-2.5M186.8 263.5v2.5M223.6 465.0v-2.5M223.6 263.5v2.5M39.5 465.0h2.5M242.0 465.0h-2.5M39.5 424.7h2.5M242.0 424.7h-2.5M39.5 384.4h2.5M242.0 384.4h-2.5M39.5 344.1h2.5M242.0 344.1h-2.5M39.5 303.8h2.5M242.0 303.8h-2.5M39.5 263.5h2.5M242.0 263.5h-2.5" stroke="#a0a0a0" stroke-width="1" fill="none"/>
<text x="39.5" y="479.6" font-size="14.3" text-anchor="middle" >600</text>
<text x="76.3" y="479.6" font-size="14.3" text-anchor="middle" >800</text>
<text x="113.1" y="479.6" font-size="14.3" text-anchor="middle" >1000</text>
<text x="150.0" y="479.6" font-size="14.3" text-anchor="middle" >1200</text>
<text x="186.8" y="479.6" font-size="14.3" text-anchor="middle" >1400</text>
<text x="223.6" y="479.6" font-size="14.3" text-anchor="middle" >1600</text>
<text x="37.6" y="470.6" font-size="14.3" text-anchor="end" >0</text>
<text x="37.6" y="430.3" font-size="14.3" text-anchor="end" >0.2</text>
<text x="37.6" y="390.0" font-size="14.3" text-anchor="end" >0.4</text>
<text x="37.6" y="349.7" font-size="14.3" text-anchor="end" >0.6</text>
<text x="37.6" y="309.4" font-size="14.3" text-anchor="end" >0.8</text>
<text x="37.6" y="269.1" font-size="14.3" text-anchor="end" >1</text>
<text x="142" y="492.3" font-size="14.3" text-anchor="middle" >Wavelength (nm)</text>
<text transform="translate(13.3,364.2) rotate(-90)" font-size="14.3" text-anchor="middle">Absorption</text>
<text x="0.8" y="273.0" font-size="18.8" text-anchor="start" >(c)</text>
</g>
<g font-family="Liberation Serif, Times New Roman, serif" fill="#000" stroke-width="0">
<g shape-rendering="geometricPrecision"><rect x="306.00" y="5.2" width="0.95" height="203.5" fill="#dcf727"/><rect x="306.50" y="5.2" width="0.95" height="203.5" fill="#dbf627"/><rect x="307.00" y="5.2" width="0.95" height="203.5" fill="#dbf627"/><rect x="307.50" y="5.2" width="0.95" height="203.5" fill="#dbf627"/><rect x="308.00" y="5.2" width="0.95" height="203.5" fill="#dcf727"/><rect x="308.50" y="5.2" width="0.95" height="203.5" fill="#dcf727"/><rect x="309.00" y="5.2" width="0.95" height="203.5" fill="#dcf727"/><rect x="309.50" y="5.2" width="0.95" height="203.5" fill="#dbf627"/><rect x="310.00" y="5.2" width="0.95" height="203.5" fill="#dbf627"/><rect x="310.50" y="5.2" width="0.95" height="203.5" fill="#dbf728"/><rect x="311.00" y="5.2" width="0.95" height="203.5" fill="#dbf729"/><rect x="311.50" y="5.2" width="0.95" height="203.5" fill="#daf729"/><rect x="312.00" y="5.2" width="0.95" height="203.5" fill="#d9f629"/><rect x="312.50" y="5.2" width="0.95" height="203.5" fill="#d9f629"/><rect x="313.00" y="5.2" width="0.95" height="203.5" fill="#daf729"/><rect x="313.50" y="5.2" width="0.95" height="203.5" fill="#daf729"/><rect x="314.00" y="5.2" width="0.95" height="203.5" fill="#daf72a"/><rect x="314.50" y="5.2" width="0.95" height="203.5" fill="#d9f72a"/><rect x="315.00" y="5.2" width="0.95" height="203.5" fill="#d7f62b"/><rect x="315.50" y="5.2" width="0.95" height="203.5" fill="#d6f62b"/><rect x="316.00" y="5.2" width="0.95" height="203.5" fill="#d7f62c"/><rect x="316.50" y="5.2" width="0.95" height="203.5" fill="#d8f72c"/><rect x="317.00" y="5.2" width="0.95" height="203.5" fill="#d8f72d"/><rect x="317.50" y="5.2" width="0.95" height="203.5" fill="#d6f72d"/><rect x="318.00" y="5.2" width="0.95" height="203.5" fill="#d4f62d"/><rect x="318.50" y="5.2" width="0.95" height="203.5" fill="#d3f62d"/><rect x="319.00" y="5.2" width="0.95" height="203.5" fill="#d4f62e"/><rect x="319.50" y="5.2" width="0.95" height="203.5" fill="#d6f72e"/><rect x="320.00" y="5.2" width="0.95" height="203.5" fill="#d6f72f"/><rect x="320.50" y="5.2" width="0.95" height="203.5" fill="#d4f72f"/><rect x="321.00" y="5.2" width="0.95" height="203.5" fill="#d1f630"/><rect x="321.50" y="5.2" width="0.95" height="203.5" fill="#d0f630"/><rect x="322.00" y="5.2" width="0.95" height="203.5" fill="#d1f631"/><rect x="322.50" y="5.2" width="0.95" height="203.5" fill="#d3f731"/><rect x="323.00" y="5.2" width="0.95" height="203.5" fill="#d4f831"/><rect x="323.50" y="5.2" width="0.95" height="203.5" fill="#d3f831"/><rect x="324.00" y="5.2" width="0.95" height="203.5" fill="#d1f733"/><rect x="324.50" y="5.2" width="0.95" height="203.5" fill="#cef633"/><rect x="325.00" y="5.2" width="0.95" height="203.5" fill="#ccf534"/><rect x="325.50" y="5.2" width="0.95" height="203.5" fill="#cdf634"/><rect x="326.00" y="5.2" width="0.95" height="203.5" fill="#d0f734"/><rect x="326.50" y="5.2" width="0.95" height="203.5" fill="#d1f834"/><rect x="327.00" y="5.2" width="0.95" height="203.5" fill="#d0f835"/><rect x="327.50" y="5.2" width="0.95" height="203.5" fill="#cdf736"/><rect x="328.00" y="5.2" width="0.95" height="203.5" fill="#caf536"/><rect x="328.50" y="5.2" width="0.95" height="203.5" fill="#c9f536"/><rect x="329.00" y="5.2" width="0.95" height="203.5" fill="#ccf635"/><rect x="329.50" y="5.2" width="0.95" height="203.5" fill="#d0f734"/><rect x="330.00" y="5.2" width="0.95" height="203.5" fill="#d2f834"/><rect x="330.50" y="5.2" width="0.95" height="203.5" fill="#d0f835"/><rect x="331.00" y="5.2" width="0.95" height="203.5" fill="#ccf737"/><rect x="331.50" y="5.2" width="0.95" height="203.5" fill="#c7f539"/><rect x="332.00" y="5.2" width="0.95" height="203.5" fill="#c5f439"/><rect x="332.50" y="5.2" width="0.95" height="203.5" fill="#c8f538"/><rect x="333.00" y="5.2" width="0.95" height="203.5" fill="#cef735"/><rect x="333.50" y="5.2" width="0.95" height="203.5" fill="#d3f832"/><rect x="334.00" y="5.2" width="0.95" height="203.5" fill="#d5f831"/><rect x="334.50" y="5.2" width="0.95" height="203.5" fill="#d3f832"/><rect x="335.00" y="5.2" width="0.95" height="203.5" fill="#cef735"/><rect x="335.50" y="5.2" width="0.95" height="203.5" fill="#c8f538"/><rect x="336.00" y="5.2" width="0.95" height="203.5" fill="#c5f438"/><rect x="336.50" y="5.2" width="0.95" height="203.5" fill="#c8f536"/><rect x="337.00" y="5.2" width="0.95" height="203.5" fill="#d0f733"/><rect x="337.50" y="5.2" width="0.95" height="203.5" fill="#d7f830"/><rect x="338.00" y="5.2" width="0.95" height="203.5" fill="#daf92e"/><rect x="338.50" y="5.2" width="0.95" height="203.5" fill="#d7f82f"/><rect x="339.00" y="5.2" width="0.95" height="203.5" fill="#d1f631"/><rect x="339.50" y="5.2" width="0.95" height="203.5" fill="#cbf433"/><rect x="340.00" y="5.2" width="0.95" height="203.5" fill="#cbf432"/><rect x="340.50" y="5.2" width="0.95" height="203.5" fill="#d1f52f"/><rect x="341.00" y="5.2" width="0.95" height="203.5" fill="#daf82b"/><rect x="341.50" y="5.2" width="0.95" height="203.5" fill="#e1f926"/><rect x="342.00" y="5.2" width="0.95" height="203.5" fill="#e3f924"/><rect x="342.50" y="5.2" width="0.95" height="203.5" fill="#e0f826"/><rect x="343.00" y="5.2" width="0.95" height="203.5" fill="#d9f72a"/><rect x="343.50" y="5.2" width="0.95" height="203.5" fill="#d3f42b"/><rect x="344.00" y="5.2" width="0.95" height="203.5" fill="#d2f32b"/><rect x="344.50" y="5.2" width="0.95" height="203.5" fill="#d8f428"/><rect x="345.00" y="5.2" width="0.95" height="203.5" fill="#e3f623"/><rect x="345.50" y="5.2" width="0.95" height="203.5" fill="#eaf41b"/><rect x="346.00" y="5.2" width="0.95" height="203.5" fill="#ecf215"/><rect x="346.50" y="5.2" width="0.95" height="203.5" fill="#edf418"/><rect x="347.00" y="5.2" width="0.95" height="203.5" fill="#e9f61e"/><rect x="347.50" y="5.2" width="0.95" height="203.5" fill="#e2f521"/><rect x="348.00" y="5.2" width="0.95" height="203.5" fill="#ddf323"/><rect x="348.50" y="5.2" width="0.95" height="203.5" fill="#dff224"/><rect x="349.00" y="5.2" width="0.95" height="203.5" fill="#e8f223"/><rect x="349.50" y="5.2" width="0.95" height="203.5" fill="#edeb1b"/><rect x="350.00" y="5.2" width="0.95" height="203.5" fill="#eddf10"/><rect x="350.50" y="5.2" width="0.95" height="203.5" fill="#edd909"/><rect x="351.00" y="5.2" width="0.95" height="203.5" fill="#eeda0a"/><rect x="351.50" y="5.2" width="0.95" height="203.5" fill="#f1e310"/><rect x="352.00" y="5.2" width="0.95" height="203.5" fill="#f4ec17"/><rect x="352.50" y="5.2" width="0.95" height="203.5" fill="#f3f01a"/><rect x="353.00" y="5.2" width="0.95" height="203.5" fill="#f4ee1c"/><rect x="353.50" y="5.2" width="0.95" height="203.5" fill="#f6e71b"/><rect x="354.00" y="5.2" width="0.95" height="203.5" fill="#f0d510"/><rect x="354.50" y="5.2" width="0.95" height="203.5" fill="#ebc406"/><rect x="355.00" y="5.2" width="0.95" height="203.5" fill="#ebbf03"/><rect x="355.50" y="5.2" width="0.95" height="203.5" fill="#eec506"/><rect x="356.00" y="5.2" width="0.95" height="203.5" fill="#f4d30d"/><rect x="356.50" y="5.2" width="0.95" height="203.5" fill="#fce216"/><rect x="357.00" y="5.2" width="0.95" height="203.5" fill="#ffe91c"/><rect x="357.50" y="5.2" width="0.95" height="203.5" fill="#ffe31b"/><rect x="358.00" y="5.2" width="0.95" height="203.5" fill="#f7cd11"/><rect x="358.50" y="5.2" width="0.95" height="203.5" fill="#ecb303"/><rect x="359.00" y="5.2" width="0.95" height="203.5" fill="#e8a700"/><rect x="359.50" y="5.2" width="0.95" height="203.5" fill="#eba901"/><rect x="360.00" y="5.2" width="0.95" height="203.5" fill="#f4b709"/><rect x="360.50" y="5.2" width="0.95" height="203.5" fill="#ffca16"/><rect x="361.00" y="5.2" width="0.95" height="203.5" fill="#ffd31e"/><rect x="361.50" y="5.2" width="0.95" height="203.5" fill="#ffc718"/><rect x="362.00" y="5.2" width="0.95" height="203.5" fill="#f4ac09"/><rect x="362.50" y="5.2" width="0.95" height="203.5" fill="#ea9600"/><rect x="363.00" y="5.2" width="0.95" height="203.5" fill="#eb8f00"/><rect x="363.50" y="5.2" width="0.95" height="203.5" fill="#f6960b"/><rect x="364.00" y="5.2" width="0.95" height="203.5" fill="#ff9f18"/><path d="M364.50 5.2H365.70L365.45 107.0L365.25 208.7H364.50L364.50 107.0Z" fill="#ff9717"/><path d="M365.00 5.2H366.48L365.95 107.0L365.53 208.7H365.00L365.00 107.0Z" fill="#f6810c"/><path d="M365.78 5.2H367.26L366.45 107.0L365.81 208.7H365.28L365.50 107.0Z" fill="#ef6d04"/><path d="M366.56 5.2H368.03L366.95 107.0L366.08 208.7H365.56L366.00 107.0Z" fill="#f06505"/><path d="M367.33 5.2H368.81L367.45 107.0L366.36 208.7H365.83L366.50 107.0Z" fill="#f36308"/><path d="M368.11 5.2H369.59L367.95 107.0L366.64 208.7H366.11L367.00 107.0Z" fill="#f5630b"/><path d="M368.89 5.2H370.37L368.45 107.0L366.92 208.7H366.39L367.50 107.0Z" fill="#f6640c"/><path d="M369.67 5.2H371.14L368.95 107.0L367.19 208.7H366.67L368.00 107.0Z" fill="#f7660c"/><path d="M370.44 5.2H371.92L369.45 107.0L367.47 208.7H366.94L368.50 107.0Z" fill="#f7680c"/><path d="M371.22 5.2H372.70L369.95 107.0L367.75 208.7H367.22L369.00 107.0Z" fill="#f7690c"/><path d="M372.00 5.2H373.48L370.45 107.0L368.03 208.7H367.50L369.50 107.0Z" fill="#f76a0c"/><path d="M372.78 5.2H374.26L370.95 107.0L368.31 208.7H367.78L370.00 107.0Z" fill="#f76b0c"/><path d="M373.56 5.2H375.03L371.45 107.0L368.58 208.7H368.06L370.50 107.0Z" fill="#f76d0c"/><path d="M374.33 5.2H375.81L371.95 107.0L368.86 208.7H368.33L371.00 107.0Z" fill="#f76e0c"/><path d="M375.11 5.2H376.59L372.45 107.0L369.14 208.7H368.61L371.50 107.0Z" fill="#f76f0c"/><path d="M375.89 5.2H377.37L372.95 107.0L369.42 208.7H368.89L372.00 107.0Z" fill="#f7700c"/><path d="M376.67 5.2H378.14L373.45 107.0L369.69 208.7H369.17L372.50 107.0Z" fill="#f7710c"/><path d="M377.44 5.2H378.92L373.95 107.0L369.97 208.7H369.44L373.00 107.0Z" fill="#f6730c"/><path d="M378.22 5.2H379.70L374.45 107.0L370.25 208.7H369.72L373.50 107.0Z" fill="#f6740c"/><path d="M379.00 5.2H380.48L374.95 107.0L370.53 208.7H370.00L374.00 107.0Z" fill="#f6760c"/><path d="M379.78 5.2H381.26L375.45 107.0L370.81 208.7H370.28L374.50 107.0Z" fill="#f6780c"/><path d="M380.56 5.2H382.03L375.95 107.0L371.08 208.7H370.56L375.00 107.0Z" fill="#f6790c"/><path d="M381.33 5.2H382.81L376.45 107.0L371.36 208.7H370.83L375.50 107.0Z" fill="#f67b0c"/><path d="M382.11 5.2H383.59L376.95 107.0L371.64 208.7H371.11L376.00 107.0Z" fill="#f67d0c"/><path d="M382.89 5.2H384.37L377.45 107.0L371.92 208.7H371.39L376.50 107.0Z" fill="#f6800c"/><path d="M383.67 5.2H385.14L377.95 107.0L372.19 208.7H371.67L377.00 107.0Z" fill="#f6820c"/><path d="M384.44 5.2H385.92L378.45 107.0L372.47 208.7H371.94L377.50 107.0Z" fill="#f6840c"/><path d="M385.22 5.2H386.70L378.95 107.0L372.75 208.7H372.22L378.00 107.0Z" fill="#f6870c"/><path d="M386.00 5.2H387.48L379.45 107.0L373.03 208.7H372.50L378.50 107.0Z" fill="#f6890c"/><path d="M386.78 5.2H388.26L379.95 107.0L373.31 208.7H372.78L379.00 107.0Z" fill="#f68c0c"/><path d="M387.56 5.2H389.03L380.45 107.0L373.58 208.7H373.06L379.50 107.0Z" fill="#f68f0c"/><path d="M388.33 5.2H389.81L380.95 107.0L373.86 208.7H373.33L380.00 107.0Z" fill="#f6920c"/><path d="M389.11 5.2H390.59L381.45 107.0L374.14 208.7H373.61L380.50 107.0Z" fill="#f6950c"/><path d="M389.89 5.2H391.37L381.95 107.0L374.42 208.7H373.89L381.00 107.0Z" fill="#f6990c"/><path d="M390.67 5.2H392.14L382.45 107.0L374.69 208.7H374.17L381.50 107.0Z" fill="#f69d0c"/><path d="M391.44 5.2H392.92L382.95 107.0L374.97 208.7H374.44L382.00 107.0Z" fill="#f6a10c"/><path d="M392.22 5.2H393.42L383.45 107.0L375.42 208.7H374.72L382.50 107.0Z" fill="#f6a50c"/><path d="M393.00 5.2H393.88L383.95 107.0L375.88 208.7H375.00L383.00 107.0Z" fill="#f6a90c"/><path d="M393.46 5.2H394.35L384.45 107.0L376.35 208.7H375.46L383.50 107.0Z" fill="#f6ae0c"/><path d="M393.93 5.2H394.81L384.95 107.0L376.81 208.7H375.93L384.00 107.0Z" fill="#f6b30c"/><path d="M394.39 5.2H395.27L385.45 107.0L377.27 208.7H376.39L384.50 107.0Z" fill="#f6b80c"/><path d="M394.86 5.2H395.74L385.95 107.0L377.74 208.7H376.86L385.00 107.0Z" fill="#f6be0c"/><path d="M395.32 5.2H396.20L386.45 107.0L378.20 208.7H377.32L385.50 107.0Z" fill="#f6c30c"/><path d="M395.79 5.2H396.67L386.95 107.0L378.67 208.7H377.79L386.00 107.0Z" fill="#f6ca0c"/><path d="M396.25 5.2H397.13L387.45 107.0L379.13 208.7H378.25L386.50 107.0Z" fill="#f6d00c"/><path d="M396.71 5.2H397.60L387.95 107.0L379.60 208.7H378.71L387.00 107.0Z" fill="#f6d80c"/><path d="M397.18 5.2H398.06L388.45 107.0L380.06 208.7H379.18L387.50 107.0Z" fill="#f6df0d"/><path d="M397.64 5.2H398.52L388.95 107.0L380.52 208.7H379.64L388.00 107.0Z" fill="#f6e70f"/><path d="M398.11 5.2H398.99L389.45 107.0L380.99 208.7H380.11L388.50 107.0Z" fill="#f4ef14"/><path d="M398.57 5.2H399.45L389.95 107.0L381.45 208.7H380.57L389.00 107.0Z" fill="#f1f419"/><path d="M399.04 5.2H399.79L390.45 107.0L382.04 208.7H381.04L389.50 107.0Z" fill="#e8f61f"/><path d="M399.50 5.2H400.12L390.95 107.0L382.64 208.7H381.50L390.00 107.0Z" fill="#def727"/><path d="M399.83 5.2H400.45L391.45 107.0L383.23 208.7H382.10L390.50 107.0Z" fill="#d2f732"/><path d="M400.15 5.2H400.77L391.95 107.0L383.83 208.7H382.70L391.00 107.0Z" fill="#c4f740"/><path d="M400.48 5.2H401.10L392.45 107.0L384.43 208.7H383.29L391.50 107.0Z" fill="#b3f852"/><path d="M400.80 5.2H401.42L392.95 107.0L385.03 208.7H383.89L392.00 107.0Z" fill="#9ff968"/><path d="M401.13 5.2H401.75L393.45 107.0L385.62 208.7H384.49L392.50 107.0Z" fill="#85f880"/><path d="M401.46 5.2H402.08L393.95 107.0L386.22 208.7H385.09L393.00 107.0Z" fill="#69f599"/><path d="M401.78 5.2H402.40L394.45 107.0L386.82 208.7H385.68L393.50 107.0Z" fill="#50f4b4"/><path d="M402.11 5.2H402.80L394.95 107.0L387.30 208.7H386.28L394.00 107.0Z" fill="#3df1ce"/><path d="M402.43 5.2H403.23L395.45 107.0L387.73 208.7H386.88L394.50 107.0Z" fill="#2ee8e4"/><path d="M402.84 5.2H403.66L395.95 107.0L388.16 208.7H387.34L395.00 107.0Z" fill="#21d5ef"/><path d="M403.28 5.2H404.09L396.45 107.0L388.59 208.7H387.78L395.50 107.0Z" fill="#16b9f4"/><path d="M403.71 5.2H404.53L396.95 107.0L389.03 208.7H388.21L396.00 107.0Z" fill="#1099f5"/><path d="M404.14 5.2H404.96L397.45 107.0L389.46 208.7H388.64L396.50 107.0Z" fill="#0d77f3"/><path d="M404.57 5.2H405.33L397.95 107.0L389.92 208.7H389.07L397.00 107.0Z" fill="#0a56ed"/><path d="M405.00 5.2H405.70L398.45 107.0L390.39 208.7H389.50L397.50 107.0Z" fill="#0536e0"/><path d="M405.37 5.2H406.08L398.95 107.0L390.86 208.7H389.97L398.00 107.0Z" fill="#021ed0"/><path d="M405.74 5.2H406.45L399.45 107.0L391.32 208.7H390.44L398.50 107.0Z" fill="#0512c2"/><path d="M406.11 5.2H406.82L399.95 107.0L391.79 208.7H390.90L399.00 107.0Z" fill="#080db3"/><path d="M406.48 5.2H407.19L400.45 107.0L392.26 208.7H391.37L399.50 107.0Z" fill="#0a0ca5"/><path d="M406.85 5.2H407.52L400.95 107.0L392.71 208.7H391.84L400.00 107.0Z" fill="#0a0b9a"/><path d="M407.23 5.2H407.84L401.45 107.0L393.15 208.7H392.31L400.50 107.0Z" fill="#0a0b94"/><path d="M407.55 5.2H408.16L401.95 107.0L393.59 208.7H392.75L401.00 107.0Z" fill="#0a0b94"/><path d="M407.87 5.2H408.47L402.45 107.0L394.04 208.7H393.20L401.50 107.0Z" fill="#080d97"/><path d="M408.19 5.2H408.79L402.95 107.0L394.48 208.7H393.64L402.00 107.0Z" fill="#041299"/><path d="M408.51 5.2H409.11L403.45 107.0L394.92 208.7H394.08L402.50 107.0Z" fill="#021b93"/><path d="M408.82 5.2H409.43L403.95 107.0L395.36 208.7H394.52L403.00 107.0Z" fill="#163a90"/><path d="M409.14 5.2H409.74L404.45 107.0L395.81 208.7H394.97L403.50 107.0Z" fill="#6285a7"/><path d="M409.46 5.2H410.06L404.95 107.0L396.25 208.7H395.41L404.00 107.0Z" fill="#b4bfac"/><path d="M409.78 5.2H410.38L405.45 107.0L396.69 208.7H395.85L404.50 107.0Z" fill="#d8b680"/><path d="M410.09 5.2H410.65L405.95 107.0L397.33 208.7H396.29L405.00 107.0Z" fill="#d87e3e"/><path d="M410.41 5.2H410.82L406.45 107.0L398.44 208.7H396.73L405.50 107.0Z" fill="#d44813"/><path d="M410.67 5.2H410.98L406.95 107.0L399.56 208.7H397.44L406.00 107.0Z" fill="#d42906"/><path d="M410.83 5.2H411.15L407.45 107.0L400.67 208.7H398.56L406.50 107.0Z" fill="#d11806"/><path d="M411.00 5.2H411.32L407.95 107.0L401.78 208.7H399.67L407.00 107.0Z" fill="#c71008"/><path d="M411.17 5.2H411.48L408.45 107.0L402.89 208.7H400.78L407.50 107.0Z" fill="#b80c0a"/><path d="M411.33 5.2H411.65L408.95 107.0L404.00 208.7H401.89L408.00 107.0Z" fill="#a90a0a"/><path d="M411.50 5.2H411.82L409.45 107.0L405.11 208.7H403.00L408.50 107.0Z" fill="#9b0808"/><path d="M411.67 5.2H411.98L409.95 107.0L406.22 208.7H404.11L409.00 107.0Z" fill="#950808"/><path d="M411.83 5.2H412.15L410.45 107.0L407.33 208.7H405.22L409.50 107.0Z" fill="#950909"/><path d="M412.00 5.2H412.32L410.95 107.0L408.44 208.7H406.33L410.00 107.0Z" fill="#9a0a09"/><path d="M412.17 5.2H412.48L411.45 107.0L409.56 208.7H407.44L410.50 107.0Z" fill="#a20b08"/><path d="M412.33 5.2H412.65L411.95 107.0L410.67 208.7H408.56L411.00 107.0Z" fill="#ac0e03"/><path d="M412.50 5.2H412.82L412.45 107.0L411.78 208.7H409.67L411.50 107.0Z" fill="#b51500"/><path d="M412.67 5.2H412.98L412.95 107.0L412.89 208.7H410.78L412.00 107.0Z" fill="#c22900"/><path d="M412.83 5.2H413.45L413.45 107.0L413.45 208.7H411.89L412.50 107.0Z" fill="#e45a0d"/><rect x="413.00" y="5.2" width="0.95" height="203.5" fill="#ff9532"/><rect x="413.50" y="5.2" width="0.95" height="203.5" fill="#ffa53b"/><rect x="414.00" y="5.2" width="0.95" height="203.5" fill="#ff7c1f"/><rect x="414.50" y="5.2" width="0.95" height="203.5" fill="#e44501"/><rect x="415.00" y="5.2" width="0.95" height="203.5" fill="#d72100"/><rect x="415.50" y="5.2" width="0.95" height="203.5" fill="#d91200"/><rect x="416.00" y="5.2" width="0.95" height="203.5" fill="#de1100"/><rect x="416.50" y="5.2" width="0.95" height="203.5" fill="#e21801"/><rect x="417.00" y="5.2" width="0.95" height="203.5" fill="#e72a02"/><rect x="417.50" y="5.2" width="0.95" height="203.5" fill="#ec4705"/><rect x="418.00" y="5.2" width="0.95" height="203.5" fill="#f26a08"/><rect x="418.50" y="5.2" width="0.95" height="203.5" fill="#f9910f"/><rect x="419.00" y="5.2" width="0.95" height="203.5" fill="#ffb819"/><rect x="419.50" y="5.2" width="0.95" height="203.5" fill="#ffd524"/><rect x="420.00" y="5.2" width="0.95" height="203.5" fill="#ffd726"/><rect x="420.50" y="5.2" width="0.95" height="203.5" fill="#ffbc1b"/><rect x="421.00" y="5.2" width="0.95" height="203.5" fill="#f8930e"/><rect x="421.50" y="5.2" width="0.95" height="203.5" fill="#f06b05"/><rect x="422.00" y="5.2" width="0.95" height="203.5" fill="#ec4a02"/><rect x="422.50" y="5.2" width="0.95" height="203.5" fill="#ec3301"/><rect x="423.00" y="5.2" width="0.95" height="203.5" fill="#ed2703"/><rect x="423.50" y="5.2" width="0.95" height="203.5" fill="#f02405"/><rect x="424.00" y="5.2" width="0.95" height="203.5" fill="#f22707"/><rect x="424.50" y="5.2" width="0.95" height="203.5" fill="#f32f08"/><rect x="425.00" y="5.2" width="0.95" height="203.5" fill="#f33a09"/><rect x="425.50" y="5.2" width="0.95" height="203.5" fill="#f44809"/><rect x="426.00" y="5.2" width="0.95" height="203.5" fill="#f45a09"/><rect x="426.50" y="5.2" width="0.95" height="203.5" fill="#f46e0a"/><rect x="427.00" y="5.2" width="0.95" height="203.5" fill="#f5840a"/><rect x="427.50" y="5.2" width="0.95" height="203.5" fill="#f69c0b"/><rect x="428.00" y="5.2" width="0.95" height="203.5" fill="#f8b50e"/><rect x="428.50" y="5.2" width="0.95" height="203.5" fill="#fecd13"/><rect x="429.00" y="5.2" width="0.95" height="203.5" fill="#ffdf1a"/><rect x="429.50" y="5.2" width="0.95" height="203.5" fill="#ffe21d"/><rect x="430.00" y="5.2" width="0.95" height="203.5" fill="#ffd318"/><rect x="430.50" y="5.2" width="0.95" height="203.5" fill="#fbb810"/><rect x="431.00" y="5.2" width="0.95" height="203.5" fill="#f69a0b"/><rect x="431.50" y="5.2" width="0.95" height="203.5" fill="#f37e08"/><rect x="432.00" y="5.2" width="0.95" height="203.5" fill="#f16607"/><rect x="432.50" y="5.2" width="0.95" height="203.5" fill="#f15206"/><rect x="433.00" y="5.2" width="0.95" height="203.5" fill="#f14506"/><rect x="433.50" y="5.2" width="0.95" height="203.5" fill="#f13c07"/><rect x="434.00" y="5.2" width="0.95" height="203.5" fill="#f33908"/><rect x="434.50" y="5.2" width="0.95" height="203.5" fill="#f43a09"/><rect x="435.00" y="5.2" width="0.95" height="203.5" fill="#f43e0a"/><rect x="435.50" y="5.2" width="0.95" height="203.5" fill="#f4440a"/><rect x="436.00" y="5.2" width="0.95" height="203.5" fill="#f54c0a"/><rect x="436.50" y="5.2" width="0.95" height="203.5" fill="#f5560a"/><rect x="437.00" y="5.2" width="0.95" height="203.5" fill="#f5620a"/><rect x="437.50" y="5.2" width="0.95" height="203.5" fill="#f5700a"/><rect x="438.00" y="5.2" width="0.95" height="203.5" fill="#f5800a"/><rect x="438.50" y="5.2" width="0.95" height="203.5" fill="#f5910b"/><rect x="439.00" y="5.2" width="0.95" height="203.5" fill="#f5a30b"/><rect x="439.50" y="5.2" width="0.95" height="203.5" fill="#f6b60d"/><rect x="440.00" y="5.2" width="0.95" height="203.5" fill="#f7ca0f"/><rect x="440.50" y="5.2" width="0.95" height="203.5" fill="#f9dd14"/><rect x="441.00" y="5.2" width="0.95" height="203.5" fill="#faeb19"/><rect x="441.50" y="5.2" width="0.95" height="203.5" fill="#f8ee1a"/><rect x="442.00" y="5.2" width="0.95" height="203.5" fill="#f9ed1b"/><rect x="442.50" y="5.2" width="0.95" height="203.5" fill="#fbe21a"/><rect x="443.00" y="5.2" width="0.95" height="203.5" fill="#f8cb13"/><rect x="443.50" y="5.2" width="0.95" height="203.5" fill="#f5b20d"/><rect x="444.00" y="5.2" width="0.95" height="203.5" fill="#f4990a"/><rect x="444.50" y="5.2" width="0.95" height="203.5" fill="#f38309"/><rect x="445.00" y="5.2" width="0.95" height="203.5" fill="#f37008"/><rect x="445.50" y="5.2" width="0.95" height="203.5" fill="#f26108"/><rect x="446.00" y="5.2" width="0.95" height="203.5" fill="#f25608"/><rect x="446.50" y="5.2" width="0.95" height="203.5" fill="#f35008"/><rect x="447.00" y="5.2" width="0.95" height="203.5" fill="#f44d09"/><rect x="447.50" y="5.2" width="0.95" height="203.5" fill="#f44d0a"/><rect x="448.00" y="5.2" width="0.95" height="203.5" fill="#f54f0a"/><rect x="448.50" y="5.2" width="0.95" height="203.5" fill="#f5530a"/><rect x="449.00" y="5.2" width="0.95" height="203.5" fill="#f5590a"/><rect x="449.50" y="5.2" width="0.95" height="203.5" fill="#f5600a"/><rect x="450.00" y="5.2" width="0.95" height="203.5" fill="#f5690b"/><rect x="450.50" y="5.2" width="0.95" height="203.5" fill="#f5730b"/><rect x="451.00" y="5.2" width="0.95" height="203.5" fill="#f57e0b"/><rect x="451.50" y="5.2" width="0.95" height="203.5" fill="#f58b0b"/><rect x="452.00" y="5.2" width="0.95" height="203.5" fill="#f5990b"/><rect x="452.50" y="5.2" width="0.95" height="203.5" fill="#f6a80b"/><rect x="453.00" y="5.2" width="0.95" height="203.5" fill="#f6b80c"/><rect x="453.50" y="5.2" width="0.95" height="203.5" fill="#f6c80e"/><rect x="454.00" y="5.2" width="0.95" height="203.5" fill="#f5d913"/><rect x="454.50" y="5.2" width="0.95" height="203.5" fill="#f4e91b"/><rect x="455.00" y="5.2" width="0.95" height="203.5" fill="#eef221"/><rect x="455.50" y="5.2" width="0.95" height="203.5" fill="#e4f323"/><rect x="456.00" y="5.2" width="0.95" height="203.5" fill="#ddf224"/><rect x="456.50" y="5.2" width="0.95" height="203.5" fill="#e0f125"/><rect x="457.00" y="5.2" width="0.95" height="203.5" fill="#eaf025"/><rect x="457.50" y="5.2" width="0.95" height="203.5" fill="#f3e821"/><rect x="458.00" y="5.2" width="0.95" height="203.5" fill="#f4d418"/><rect x="458.50" y="5.2" width="0.95" height="203.5" fill="#f4be10"/><rect x="459.00" y="5.2" width="0.95" height="203.5" fill="#f4a80b"/><rect x="459.50" y="5.2" width="0.95" height="203.5" fill="#f4950a"/><rect x="460.00" y="5.2" width="0.95" height="203.5" fill="#f38409"/><rect x="460.50" y="5.2" width="0.95" height="203.5" fill="#f37609"/><rect x="461.00" y="5.2" width="0.95" height="203.5" fill="#f36c08"/><rect x="461.50" y="5.2" width="0.95" height="203.5" fill="#f36509"/><rect x="462.00" y="5.2" width="0.95" height="203.5" fill="#f46109"/><rect x="462.50" y="5.2" width="0.95" height="203.5" fill="#f4600a"/><rect x="463.00" y="5.2" width="0.95" height="203.5" fill="#f5620a"/><rect x="463.50" y="5.2" width="0.95" height="203.5" fill="#f5650a"/><rect x="464.00" y="5.2" width="0.95" height="203.5" fill="#f56a0a"/><rect x="464.50" y="5.2" width="0.95" height="203.5" fill="#f5710a"/><rect x="465.00" y="5.2" width="0.95" height="203.5" fill="#f5790b"/><rect x="465.50" y="5.2" width="0.95" height="203.5" fill="#f5820b"/><rect x="466.00" y="5.2" width="0.95" height="203.5" fill="#f58d0b"/><rect x="466.50" y="5.2" width="0.95" height="203.5" fill="#f5990b"/><rect x="467.00" y="5.2" width="0.95" height="203.5" fill="#f5a70b"/><rect x="467.50" y="5.2" width="0.95" height="203.5" fill="#f5b50c"/><rect x="468.00" y="5.2" width="0.95" height="203.5" fill="#f5c50d"/><rect x="468.50" y="5.2" width="0.95" height="203.5" fill="#f5d511"/><rect x="469.00" y="5.2" width="0.95" height="203.5" fill="#f4e418"/><rect x="469.50" y="5.2" width="0.95" height="203.5" fill="#eff022"/><rect x="470.00" y="5.2" width="0.95" height="203.5" fill="#e2f529"/><rect x="470.50" y="5.2" width="0.95" height="203.5" fill="#d4f530"/><rect x="471.00" y="5.2" width="0.95" height="203.5" fill="#c9f436"/><rect x="471.50" y="5.2" width="0.95" height="203.5" fill="#c4f339"/><rect x="472.00" y="5.2" width="0.95" height="203.5" fill="#c7f437"/><rect x="472.50" y="5.2" width="0.95" height="203.5" fill="#d1f532"/><rect x="473.00" y="5.2" width="0.95" height="203.5" fill="#dff52b"/><rect x="473.50" y="5.2" width="0.95" height="203.5" fill="#ecf223"/><rect x="474.00" y="5.2" width="0.95" height="203.5" fill="#f3e71a"/><rect x="474.50" y="5.2" width="0.95" height="203.5" fill="#f5d812"/><rect x="475.00" y="5.2" width="0.95" height="203.5" fill="#f5c90e"/><rect x="475.50" y="5.2" width="0.95" height="203.5" fill="#f5ba0c"/><rect x="476.00" y="5.2" width="0.95" height="203.5" fill="#f5ac0b"/><rect x="476.50" y="5.2" width="0.95" height="203.5" fill="#f59f0b"/><rect x="477.00" y="5.2" width="0.95" height="203.5" fill="#f5940a"/><rect x="477.50" y="5.2" width="0.95" height="203.5" fill="#f48a0a"/><rect x="478.00" y="5.2" width="0.95" height="203.5" fill="#f48309"/><rect x="478.50" y="5.2" width="0.50" height="203.5" fill="#f47d0a"/></g>
<rect x="306.0" y="5.2" width="173.0" height="203.5" fill="none" stroke="#8a8a6a" stroke-width="0.8"/>
<circle cx="405.7" cy="30.5" r="2.3" fill="none" stroke="#eeeeff" stroke-width="1.0"/>
<circle cx="404.1" cy="56.2" r="2.3" fill="none" stroke="#eeeeff" stroke-width="1.0"/>
<circle cx="402.5" cy="81.3" r="2.3" fill="none" stroke="#eeeeff" stroke-width="1.0"/>
<circle cx="400.5" cy="107" r="2.3" fill="none" stroke="#eeeeff" stroke-width="1.0"/>
<circle cx="398.8" cy="132.7" r="2.3" fill="none" stroke="#eeeeff" stroke-width="1.0"/>
<circle cx="396.6" cy="157.8" r="2.3" fill="none" stroke="#eeeeff" stroke-width="1.0"/>
<circle cx="394.3" cy="183.2" r="2.3" fill="none" stroke="#eeeeff" stroke-width="1.0"/>
<defs><linearGradient id="jetv" x1="0" y1="1" x2="0" y2="0"><stop offset="0.00000" stop-color="#040470"/><stop offset="0.01562" stop-color="#040470"/><stop offset="0.01562" stop-color="#05057c"/><stop offset="0.03125" stop-color="#05057c"/><stop offset="0.03125" stop-color="#050588"/><stop offset="0.04688" stop-color="#050588"/><stop offset="0.04688" stop-color="#050595"/><stop offset="0.06250" stop-color="#050595"/><stop offset="0.06250" stop-color="#0606a1"/><stop offset="0.07812" stop-color="#0606a1"/><stop offset="0.07812" stop-color="#0606ae"/><stop offset="0.09375" stop-color="#0606ae"/><stop offset="0.09375" stop-color="#0707ba"/><stop offset="0.10938" stop-color="#0707ba"/><stop offset="0.10938" stop-color="#0707c7"/><stop offset="0.12500" stop-color="#0707c7"/><stop offset="0.12500" stop-color="#0a16c9"/><stop offset="0.14062" stop-color="#0a16c9"/><stop offset="0.14062" stop-color="#0c24cb"/><stop offset="0.15625" stop-color="#0c24cb"/><stop offset="0.15625" stop-color="#0e32ce"/><stop offset="0.17188" stop-color="#0e32ce"/><stop offset="0.17188" stop-color="#1140d0"/><stop offset="0.18750" stop-color="#1140d0"/><stop offset="0.18750" stop-color="#134fd2"/><stop offset="0.20312" stop-color="#134fd2"/><stop offset="0.20312" stop-color="#155dd5"/><stop offset="0.21875" stop-color="#155dd5"/><stop offset="0.21875" stop-color="#186bd7"/><stop offset="0.23438" stop-color="#186bd7"/><stop offset="0.23438" stop-color="#1a7ad9"/><stop offset="0.25000" stop-color="#1a7ad9"/><stop offset="0.25000" stop-color="#1c88dc"/><stop offset="0.26562" stop-color="#1c88dc"/><stop offset="0.26562" stop-color="#1f96de"/><stop offset="0.28125" stop-color="#1f96de"/><stop offset="0.28125" stop-color="#21a4e0"/><stop offset="0.29688" stop-color="#21a4e0"/><stop offset="0.29688" stop-color="#23b3e3"/><stop offset="0.31250" stop-color="#23b3e3"/><stop offset="0.31250" stop-color="#26c1e5"/><stop offset="0.32812" stop-color="#26c1e5"/><stop offset="0.32812" stop-color="#28cfe7"/><stop offset="0.34375" stop-color="#28cfe7"/><stop offset="0.34375" stop-color="#2adeea"/><stop offset="0.35938" stop-color="#2adeea"/><stop offset="0.35938" stop-color="#2decec"/><stop offset="0.37500" stop-color="#2decec"/><stop offset="0.37500" stop-color="#39ede1"/><stop offset="0.39062" stop-color="#39ede1"/><stop offset="0.39062" stop-color="#46edd6"/><stop offset="0.40625" stop-color="#46edd6"/><stop offset="0.40625" stop-color="#53eeca"/><stop offset="0.42188" stop-color="#53eeca"/><stop offset="0.42188" stop-color="#5fefbf"/><stop offset="0.43750" stop-color="#5fefbf"/><stop offset="0.43750" stop-color="#6cf0b4"/><stop offset="0.45312" stop-color="#6cf0b4"/><stop offset="0.45312" stop-color="#79f0a9"/><stop offset="0.46875" stop-color="#79f0a9"/><stop offset="0.46875" stop-color="#86f19d"/><stop offset="0.48438" stop-color="#86f19d"/><stop offset="0.48438" stop-color="#92f292"/><stop offset="0.50000" stop-color="#92f292"/><stop offset="0.50000" stop-color="#9ff387"/><stop offset="0.51562" stop-color="#9ff387"/><stop offset="0.51562" stop-color="#acf37c"/><stop offset="0.53125" stop-color="#acf37c"/><stop offset="0.53125" stop-color="#b8f471"/><stop offset="0.54688" stop-color="#b8f471"/><stop offset="0.54688" stop-color="#c5f565"/><stop offset="0.56250" stop-color="#c5f565"/><stop offset="0.56250" stop-color="#d2f65a"/><stop offset="0.57812" stop-color="#d2f65a"/><stop offset="0.57812" stop-color="#def64f"/><stop offset="0.59375" stop-color="#def64f"/><stop offset="0.59375" stop-color="#ebf744"/><stop offset="0.60938" stop-color="#ebf744"/><stop offset="0.60938" stop-color="#f8f838"/><stop offset="0.62500" stop-color="#f8f838"/><stop offset="0.62500" stop-color="#f5e936"/><stop offset="0.64062" stop-color="#f5e936"/><stop offset="0.64062" stop-color="#f3db34"/><stop offset="0.65625" stop-color="#f3db34"/><stop offset="0.65625" stop-color="#f1cd31"/><stop offset="0.67188" stop-color="#f1cd31"/><stop offset="0.67188" stop-color="#eebf2f"/><stop offset="0.68750" stop-color="#eebf2f"/><stop offset="0.68750" stop-color="#ecb02d"/><stop offset="0.70312" stop-color="#ecb02d"/><stop offset="0.70312" stop-color="#eaa22a"/><stop offset="0.71875" stop-color="#eaa22a"/><stop offset="0.71875" stop-color="#e79428"/><stop offset="0.73438" stop-color="#e79428"/><stop offset="0.73438" stop-color="#e58526"/><stop offset="0.75000" stop-color="#e58526"/><stop offset="0.75000" stop-color="#e37723"/><stop offset="0.76562" stop-color="#e37723"/><stop offset="0.76562" stop-color="#e06921"/><stop offset="0.78125" stop-color="#e06921"/><stop offset="0.78125" stop-color="#de5b1f"/><stop offset="0.79688" stop-color="#de5b1f"/><stop offset="0.79688" stop-color="#dc4c1c"/><stop offset="0.81250" stop-color="#dc4c1c"/><stop offset="0.81250" stop-color="#d93e1a"/><stop offset="0.82812" stop-color="#d93e1a"/><stop offset="0.82812" stop-color="#d73018"/><stop offset="0.84375" stop-color="#d73018"/><stop offset="0.84375" stop-color="#d52115"/><stop offset="0.85938" stop-color="#d52115"/><stop offset="0.85938" stop-color="#d21313"/><stop offset="0.87500" stop-color="#d21313"/><stop offset="0.87500" stop-color="#c51212"/><stop offset="0.89062" stop-color="#c51212"/><stop offset="0.89062" stop-color="#b81111"/><stop offset="0.90625" stop-color="#b81111"/><stop offset="0.90625" stop-color="#ab0f0f"/><stop offset="0.92188" stop-color="#ab0f0f"/><stop offset="0.92188" stop-color="#9e0e0e"/><stop offset="0.93750" stop-color="#9e0e0e"/><stop offset="0.93750" stop-color="#910d0d"/><stop offset="0.95312" stop-color="#910d0d"/><stop offset="0.95312" stop-color="#830c0c"/><stop offset="0.96875" stop-color="#830c0c"/><stop offset="0.96875" stop-color="#760b0b"/><stop offset="0.98438" stop-color="#760b0b"/><stop offset="0.98438" stop-color="#690a0a"/><stop offset="1.00000" stop-color="#690a0a"/></linearGradient></defs>
<rect x="488" y="5.2" width="11.8" height="203.6" fill="url(#jetv)" stroke="#555" stroke-width="0.4"/>
<text x="501.2" y="194.7" font-size="14.3" text-anchor="start" >0.2</text>
<text x="501.2" y="142.9" font-size="14.3" text-anchor="start" >0.4</text>
<text x="501.2" y="91.1" font-size="14.3" text-anchor="start" >0.6</text>
<text x="501.2" y="39.3" font-size="14.3" text-anchor="start" >0.8</text>
<text x="304.5" y="214.3" font-size="14.3" text-anchor="end" >360</text>
<text x="304.5" y="163.4" font-size="14.3" text-anchor="end" >380</text>
<text x="304.5" y="112.5" font-size="14.3" text-anchor="end" >400</text>
<text x="304.5" y="61.7" font-size="14.3" text-anchor="end" >420</text>
<text x="304.5" y="10.8" font-size="14.3" text-anchor="end" >440</text>
<text x="306.0" y="223.7" font-size="14.3" text-anchor="middle" >600</text>
<text x="337.4" y="223.7" font-size="14.3" text-anchor="middle" >800</text>
<text x="368.8" y="223.7" font-size="14.3" text-anchor="middle" >1000</text>
<text x="400.2" y="223.7" font-size="14.3" text-anchor="middle" >1200</text>
<text x="431.6" y="223.7" font-size="14.3" text-anchor="middle" >1400</text>
<text x="463.0" y="223.7" font-size="14.3" text-anchor="middle" >1600</text>
<text x="393" y="236.5" font-size="14.3" text-anchor="middle" >Wavelength (nm)</text>
<text transform="translate(272,106.2) rotate(-90)" font-size="14.3" text-anchor="middle"><tspan font-style="italic">d</tspan><tspan font-size="10.5" font-style="italic" dy="5.5">c</tspan><tspan dy="-5.5"> (nm)</tspan></text>
<text x="256.8" y="14.8" font-size="18.8" text-anchor="start" >(b)</text>
<defs><linearGradient id="dh" x1="0" y1="0" x2="1" y2="0"><stop offset="0.0000" stop-color="#0000a0"/><stop offset="0.0035" stop-color="#0000c8"/><stop offset="0.0859" stop-color="#0000c8"/><stop offset="0.0917" stop-color="#282de6"/><stop offset="0.0987" stop-color="#282de6"/><stop offset="0.1021" stop-color="#0000c8"/><stop offset="0.1103" stop-color="#0000c8"/><stop offset="0.1138" stop-color="#aac3e6"/><stop offset="0.1184" stop-color="#aabedc"/><stop offset="0.1219" stop-color="#96140a"/><stop offset="0.1265" stop-color="#800000"/><stop offset="0.1312" stop-color="#96140a"/><stop offset="0.1346" stop-color="#beb496"/><stop offset="0.1405" stop-color="#b4aa96"/><stop offset="0.1439" stop-color="#0000a0"/><stop offset="0.1532" stop-color="#0000a5"/><stop offset="0.1573" stop-color="#bed26e"/><stop offset="0.1672" stop-color="#cddc78"/><stop offset="0.1764" stop-color="#bed26e"/><stop offset="0.1799" stop-color="#0000aa"/><stop offset="0.1938" stop-color="#0000af"/><stop offset="0.1979" stop-color="#82d2fa"/><stop offset="0.2043" stop-color="#a0e6ff"/><stop offset="0.2107" stop-color="#82d2fa"/><stop offset="0.2171" stop-color="#000abe"/><stop offset="0.2293" stop-color="#0000af"/><stop offset="0.2351" stop-color="#283cf0"/><stop offset="0.2432" stop-color="#4b5fff"/><stop offset="0.2519" stop-color="#283cf0"/><stop offset="0.2600" stop-color="#0000b4"/><stop offset="0.2739" stop-color="#0000d7"/><stop offset="0.2850" stop-color="#050af0"/><stop offset="0.2966" stop-color="#0000d7"/><stop offset="0.3053" stop-color="#0000b9"/><stop offset="0.3157" stop-color="#0000c8"/><stop offset="0.3227" stop-color="#0000d7"/><stop offset="0.3297" stop-color="#0000c8"/><stop offset="0.3384" stop-color="#0000ac"/><stop offset="0.3587" stop-color="#0000a5"/><stop offset="0.3761" stop-color="#000096"/><stop offset="0.4138" stop-color="#000084"/><stop offset="1.0000" stop-color="#000080"/></linearGradient></defs>
<rect x="305.2" y="263.5" width="172.3" height="83.9" fill="url(#dh)"/>
<rect x="486" y="263.7" width="12.3" height="83.8" fill="url(#jetv)" stroke="#555" stroke-width="0.4"/>
<text x="499.6" y="339.1" font-size="14.3" text-anchor="start" >0.5</text>
<text x="499.6" y="324.0" font-size="14.3" text-anchor="start" >1</text>
<text x="499.6" y="308.9" font-size="14.3" text-anchor="start" >1.5</text>
<text x="499.6" y="293.8" font-size="14.3" text-anchor="start" >2</text>
<text x="499.6" y="278.7" font-size="14.3" text-anchor="start" >2.5</text>
<text x="303.2" y="269.8" font-size="14.3" text-anchor="end" >0.01</text>
<text x="303.2" y="312.4" font-size="14.3" text-anchor="end" >0</text>
<text x="303.2" y="354.6" font-size="14.3" text-anchor="end" >-0.01</text>
<text x="322.2" y="362.4" font-size="14.3" text-anchor="middle" >0</text>
<text x="363.7" y="362.4" font-size="14.3" text-anchor="middle" >2</text>
<text x="405.8" y="362.4" font-size="14.3" text-anchor="middle" >4</text>
<text x="447.3" y="362.4" font-size="14.3" text-anchor="middle" >6</text>
<text x="391.4" y="375.9" font-size="14.3" text-anchor="middle" >x (μm)</text>
<text transform="translate(278.5,305) rotate(-90)" font-size="14.3" text-anchor="middle">y (μm)</text>
<text x="255.2" y="271.4" font-size="18.8" text-anchor="start" >(d)</text>
<path d="M305.90 460.57L306.40 460.57L306.90 460.57L307.40 460.57L307.90 460.57L308.40 460.57L308.90 460.57L309.40 460.57L309.90 460.57L310.40 460.57L310.90 460.57L311.40 460.57L311.90 460.57L312.40 460.57L312.90 460.57L313.40 460.57L313.90 460.57L314.40 460.57L314.90 460.57L315.40 460.57L315.90 460.57L316.40 460.57L316.90 460.57L317.40 460.57L317.90 460.57L318.40 460.57L318.90 460.57L319.40 460.57L319.90 460.57L320.40 460.57L320.90 460.57L321.40 460.57L322.00 458.97L322.40 452.30L322.80 448.30L323.30 453.63L323.80 461.63L324.20 464.30L324.45 463.43L324.70 460.85L324.95 456.70L325.20 451.15L325.45 444.49L325.70 437.02L325.95 429.11L326.20 421.11L326.45 413.42L326.70 406.39L326.95 400.37L327.20 395.63L327.45 392.40L327.70 390.84L327.95 391.01L328.20 392.92L328.45 396.46L328.70 401.48L328.95 407.73L329.20 414.91L329.45 422.70L329.70 430.71L329.95 438.57L330.20 445.90L330.45 452.36L330.70 457.64L330.95 461.50L331.20 463.74L331.65 463.62L331.90 461.61L332.15 458.38L332.40 454.09L332.65 448.97L332.90 443.27L333.15 437.30L333.40 431.36L333.65 425.75L333.90 420.78L334.15 416.68L334.40 413.69L334.65 411.94L334.90 411.53L335.15 412.48L335.40 414.74L335.65 418.20L335.90 422.68L336.15 427.94L336.40 433.71L336.65 439.70L336.90 445.60L337.15 451.10L337.40 455.92L337.65 459.81L337.90 462.57L338.15 464.05L338.55 463.96L338.80 462.95L339.05 461.33L339.30 459.17L339.55 456.57L339.80 453.67L340.05 450.61L340.30 447.53L340.55 444.59L340.80 441.92L341.05 439.66L341.30 437.93L341.55 436.79L341.80 436.31L342.05 436.52L342.30 437.40L342.55 438.90L342.80 440.96L343.05 443.48L343.30 446.33L343.55 449.37L343.80 452.46L344.05 455.44L344.30 458.17L344.55 460.52L344.80 462.37L345.05 463.63L345.30 464.25L345.65 464.12L345.90 463.58L346.15 462.71L346.40 461.56L346.65 460.18L346.90 458.63L347.15 457.00L347.40 455.36L347.65 453.79L347.90 452.36L348.15 451.16L348.40 450.23L348.65 449.63L348.90 449.37L349.15 449.48L349.40 449.95L349.65 450.75L349.90 451.85L350.15 453.20L350.40 454.72L350.65 456.34L350.90 457.99L351.15 459.58L351.40 461.03L351.65 462.29L351.90 463.27L352.15 463.94L352.40 464.27L352.75 464.21L353.00 463.96L353.25 463.55L353.50 463.00L353.75 462.34L354.00 461.60L354.25 460.81L354.50 460.01L354.75 459.23L355.00 458.52L355.25 457.90L355.50 457.40L355.75 457.05L356.00 456.86L356.25 456.85L356.50 457.00L356.75 457.32L357.00 457.79L357.25 458.39L357.50 459.08L357.75 459.85L358.00 460.65L358.25 461.44L358.50 462.20L358.75 462.88L359.00 463.45L359.25 463.89L359.50 464.18L359.75 464.30L360.05 464.26L360.30 464.13L360.55 463.91L360.80 463.63L361.05 463.30L361.30 462.92L361.55 462.51L361.80 462.11L362.05 461.72L362.30 461.36L362.55 461.06L362.80 460.82L363.05 460.65L363.30 460.57L363.55 460.58L363.80 460.68L364.05 460.86L364.30 461.11L364.55 461.43L364.80 461.79L365.05 462.19L365.30 462.60L365.55 462.99L365.80 463.37L366.05 463.69L366.30 463.96L366.55 464.16L366.80 464.27L367.25 464.28L367.50 464.21L367.75 464.11L368.00 463.97L368.25 463.80L368.50 463.61L368.75 463.41L369.00 463.20L369.25 463.01L369.50 462.83L369.75 462.68L370.00 462.56L370.25 462.48L370.50 462.44L370.75 462.44L371.00 462.49L371.25 462.58L371.50 462.71L371.75 462.87L372.00 463.05L372.25 463.24L372.50 463.45L372.75 463.65L373.00 463.83L373.25 464.00L373.50 464.13L373.75 464.23L374.00 464.29L374.45 464.29L374.70 464.26L374.95 464.20L375.20 464.13L375.45 464.05L375.70 463.95L375.95 463.85L376.20 463.75L376.45 463.65L376.70 463.57L376.95 463.49L377.20 463.43L377.45 463.39L377.70 463.37L377.95 463.37L378.20 463.39L378.45 463.44L378.70 463.50L378.95 463.58L379.20 463.67L379.45 463.77L379.70 463.87L379.95 463.97L380.20 464.07L380.45 464.15L380.70 464.22L380.95 464.26L381.20 464.29L381.65 464.29L381.90 464.28L382.15 464.25L382.40 464.21L382.65 464.17L382.90 464.12L383.15 464.07L383.40 464.02L383.65 463.97L383.90 463.92L384.15 463.88L384.40 463.85L384.65 463.83L384.90 463.82L385.15 463.82L385.40 463.83L385.65 463.86L385.90 463.89L386.15 463.93L386.40 463.98L386.65 464.03L386.90 464.08L387.15 464.13L387.40 464.18L387.65 464.22L387.90 464.26L388.15 464.28L388.40 464.30L388.85 464.30L389.10 464.29L389.35 464.28L389.60 464.26L389.85 464.24L390.10 464.21L390.35 464.19L390.60 464.16L390.85 464.13L391.10 464.11L391.35 464.09L391.60 464.08L391.85 464.07L392.10 464.06L392.35 464.06L392.60 464.07L392.85 464.08L393.10 464.10L393.35 464.12L393.60 464.14L393.85 464.16L394.10 464.19L394.35 464.22L394.60 464.24L394.85 464.26L395.10 464.28L395.35 464.29L395.60 464.30L396.05 464.30L396.30 464.29L396.55 464.29L396.80 464.28L397.05 464.26L397.30 464.25L397.55 464.24L397.80 464.22L398.05 464.21L398.30 464.20L398.55 464.18L398.80 464.18L399.05 464.17L399.30 464.17L399.55 464.17L399.80 464.17L400.05 464.18L400.30 464.19L400.55 464.20L400.80 464.21L401.05 464.22L401.30 464.24L401.55 464.25L401.80 464.27L402.05 464.28L402.30 464.29L402.55 464.29L402.80 464.30L403.25 464.30L403.50 464.30L403.75 464.29L404.00 464.29L404.25 464.28L404.50 464.27L404.75 464.26L405.00 464.25L405.25 464.24L405.50 464.24L405.75 464.23L406.00 464.23L406.25 464.22L406.50 464.22L406.75 464.22L407.00 464.22L407.25 464.23L407.50 464.23L407.75 464.24L408.00 464.25L408.25 464.25L408.50 464.26L408.75 464.27L409.00 464.28L409.25 464.29L409.50 464.29L409.75 464.30L410.00 464.30L410.45 464.30L410.70 464.30L410.95 464.29L411.20 464.29L411.45 464.29L411.70 464.28L411.95 464.27L412.20 464.27L412.45 464.26L412.70 464.26L412.95 464.25L413.20 464.25L413.45 464.25L413.70 464.25L413.95 464.25L414.20 464.25L414.45 464.25L414.70 464.25L414.95 464.26L415.20 464.26L415.45 464.27L415.70 464.28L415.95 464.28L416.20 464.29L416.45 464.29L416.70 464.30L416.95 464.30L417.20 464.30L476.90 464.30" fill="none" stroke="#2a28bb" stroke-width="1.5" stroke-linejoin="round"/>
<path d="M323.7 384.3V464.3" stroke="#000" stroke-width="1.5"/>
<rect x="305.9" y="384.3" width="171.0" height="80.0" fill="none" stroke="#a0a0a0" stroke-width="1"/>
<path d="M323.0 464.3v-2M323.0 384.3v2M366.1 464.3v-2M366.1 384.3v2M409.2 464.3v-2M409.2 384.3v2M452.3 464.3v-2M452.3 384.3v2M305.9 464.3h2M476.9 464.3h-2M305.9 437.6h2M476.9 437.6h-2M305.9 411.0h2M476.9 411.0h-2M305.9 384.3h2M476.9 384.3h-2" stroke="#a0a0a0" stroke-width="1" fill="none"/>
<text x="303.5" y="471.1" font-size="14.3" text-anchor="end" >0</text>
<text x="303.5" y="444.4" font-size="14.3" text-anchor="end" >1</text>
<text x="303.5" y="417.8" font-size="14.3" text-anchor="end" >2</text>
<text x="303.5" y="391.1" font-size="14.3" text-anchor="end" >3</text>
<text x="322.6" y="479.5" font-size="14.3" text-anchor="middle" >0</text>
<text x="365.7" y="479.5" font-size="14.3" text-anchor="middle" >2</text>
<text x="409.0" y="479.5" font-size="14.3" text-anchor="middle" >4</text>
<text x="452.2" y="479.5" font-size="14.3" text-anchor="middle" >6</text>
<text x="392.5" y="493.5" font-size="14.3" text-anchor="middle" >x (μm)</text>
<text x="329.8" y="395.0" font-size="14.5">BSTS</text>
<text transform="translate(281.2,423.4) rotate(-90)" font-size="14.3" text-anchor="middle">|E|<tspan font-size="9.5" dy="-10">2</tspan><tspan dy="10"> (V</tspan><tspan font-size="9.5" dy="-10">2</tspan><tspan dy="10">/m</tspan><tspan font-size="9.5" dy="-10">2</tspan><tspan dy="10">)</tspan></text>
</g>
</svg></body></html>
